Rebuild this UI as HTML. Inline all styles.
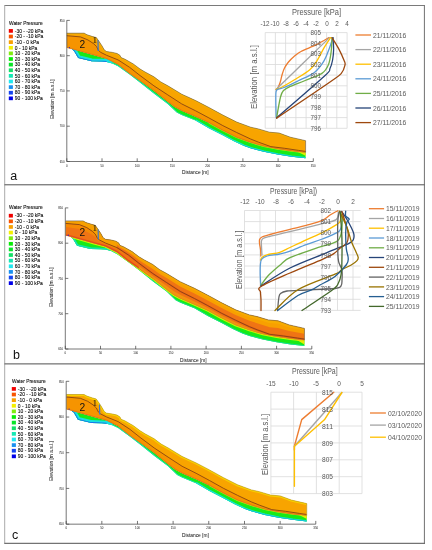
<!DOCTYPE html><html><head><meta charset="utf-8"><style>html,body{margin:0;padding:0;background:#fff;}#w{position:relative;width:432px;height:550px;overflow:hidden}svg{position:absolute;left:0;top:0;display:block}.t{position:absolute;width:0;height:0;transform-origin:0 0;}.t span{position:absolute;line-height:0;white-space:nowrap;}</style></head><body><div id="w"><svg width="432" height="550" viewBox="0 0 432 550"><rect width="432" height="550" fill="#fff"/>
<g><clipPath id="coa"><polygon points="66.8,33.2 84.2,33.2 87.0,34.8 92.6,36.6 96.3,37.6 98.6,40.8 102.0,45.9 104.3,50.0 106.6,51.6 112.4,52.4 117.0,53.5 119.9,55.3 121.0,57.6 125.1,59.3 133.2,63.9 140.0,69.0 145.0,72.0 153.9,76.8 160.8,82.0 167.8,85.8 181.7,94.2 195.6,100.6 208.9,107.5 222.8,115.1 236.7,122.1 250.6,127.2 258.3,128.9 269.4,132.2 279.2,133.1 290.3,137.2 305.6,140.7 305.6,152.5 291.7,151.1 277.8,149.0 263.9,146.3 250.6,142.4 236.7,137.4 222.8,130.4 208.9,122.8 195.6,116.7 181.7,110.8 174.7,107.0 167.8,101.8 153.9,90.7 140.0,80.8 129.7,73.7 118.1,64.5 106.6,58.7 95.0,55.6 72.2,49.1 66.8,47.8"/></clipPath>
<clipPath id="cga"><polygon points="72.2,49.1 95.0,55.6 106.6,58.7 118.1,64.5 129.7,73.7 140.0,80.8 153.9,90.7 167.8,101.8 174.7,107.0 181.7,110.8 195.6,116.7 208.9,122.8 222.8,130.4 236.7,137.4 250.6,142.4 263.9,146.3 277.8,149.0 291.7,151.1 305.6,152.5 305.6,158.3 305.6,158.3 291.7,156.7 277.8,154.6 263.9,151.8 250.6,148.3 243.6,145.7 234.0,141.3 222.8,135.3 208.9,128.3 195.6,120.6 181.7,115.0 176.8,112.6 167.8,103.9 153.9,93.5 140.0,82.4 129.7,74.6 118.1,66.3 112.4,63.4 106.6,61.9 102.0,61.6 91.6,61.2 78.2,58.0 74.0,51.0 72.2,49.6"/></clipPath>
<polygon points="72.2,49.1 95.0,55.6 106.6,58.7 118.1,64.5 129.7,73.7 140.0,80.8 153.9,90.7 167.8,101.8 174.7,107.0 181.7,110.8 195.6,116.7 208.9,122.8 222.8,130.4 236.7,137.4 250.6,142.4 263.9,146.3 277.8,149.0 291.7,151.1 305.6,152.5 305.6,158.3 305.6,158.3 291.7,156.7 277.8,154.6 263.9,151.8 250.6,148.3 243.6,145.7 234.0,141.3 222.8,135.3 208.9,128.3 195.6,120.6 181.7,115.0 176.8,112.6 167.8,103.9 153.9,93.5 140.0,82.4 129.7,74.6 118.1,66.3 112.4,63.4 106.6,61.9 102.0,61.6 91.6,61.2 78.2,58.0 74.0,51.0 72.2,49.6" fill="#18ea18"/>
<g clip-path="url(#cga)">
<path d="M72.2,49.6 L74.0,51.0 L78.2,58.0 L91.6,61.2 L102.0,61.6 L106.6,61.9 L112.4,63.4 L118.1,66.3 L129.7,74.6 L140.0,82.4 L153.9,93.5 L167.8,103.9 L176.8,112.6 L181.7,115.0 L195.6,120.6 L208.9,128.3 L222.8,135.3 L234.0,141.3 L243.6,145.7 L250.6,148.3 L263.9,151.8 L277.8,154.6 L291.7,156.7 L305.6,158.3" fill="none" stroke="#18e0c8" stroke-width="1.6"/>
<path d="M195.6,120.6 L208.9,128.3 L222.8,135.3 L234.0,141.3 L243.6,145.7 L250.6,148.3 L263.9,151.8 L277.8,154.6 L291.7,156.7 L305.6,158.3" fill="none" stroke="#18e0d0" stroke-width="2.6"/>
<path d="M72.2,49.6 L74.0,51.0 L78.2,58.0 L91.6,61.2 L102.0,61.6 L106.6,61.9 L112.4,63.4" fill="none" stroke="#18e0e0" stroke-width="5.6"/>
<path d="M72.2,49.6 L74.0,51.0 L78.2,58.0 L91.6,61.2 L102.0,61.6 L106.6,61.9" fill="none" stroke="#1a70e8" stroke-width="1.6"/>
<path d="M243.6,145.7 L250.6,148.3 L263.9,151.8 L277.8,154.6 L291.7,156.7 L305.6,158.3" fill="none" stroke="#10a8e0" stroke-width="0.9"/>
<path d="M208.9,122.8 L222.8,130.4 L236.7,137.4 L250.6,142.4 L263.9,146.3 L277.8,149.0 L291.7,151.1 L305.6,152.5" fill="none" stroke="#d8e800" stroke-width="1.4"/>
<polygon points="298,152 306,152.5 306,156" fill="#e8e800"/>
</g>
<polygon points="66.8,33.2 84.2,33.2 87.0,34.8 92.6,36.6 96.3,37.6 98.6,40.8 102.0,45.9 104.3,50.0 106.6,51.6 112.4,52.4 117.0,53.5 119.9,55.3 121.0,57.6 125.1,59.3 133.2,63.9 140.0,69.0 145.0,72.0 153.9,76.8 160.8,82.0 167.8,85.8 181.7,94.2 195.6,100.6 208.9,107.5 222.8,115.1 236.7,122.1 250.6,127.2 258.3,128.9 269.4,132.2 279.2,133.1 290.3,137.2 305.6,140.7 305.6,152.5 291.7,151.1 277.8,149.0 263.9,146.3 250.6,142.4 236.7,137.4 222.8,130.4 208.9,122.8 195.6,116.7 181.7,110.8 174.7,107.0 167.8,101.8 153.9,90.7 140.0,80.8 129.7,73.7 118.1,64.5 106.6,58.7 95.0,55.6 72.2,49.1 66.8,47.8" fill="#f8a400"/>
<g clip-path="url(#coa)">
<path d="M66.8,33.2 L84.2,33.2 L87.0,34.8 L92.6,36.6 L96.3,37.6 L98.6,40.8 L102.0,45.9 L104.3,50.0 L106.6,51.6 L112.4,52.4 L117.0,53.5 L119.9,55.3 L121.0,57.6 L125.1,59.3 L133.2,63.9 L140.0,69.0 L145.0,72.0 L153.9,76.8 L160.8,82.0 L167.8,85.8 L181.7,94.2 L195.6,100.6 L208.9,107.5 L222.8,115.1 L236.7,122.1 L250.6,127.2 L258.3,128.9 L269.4,132.2 L279.2,133.1 L290.3,137.2 L305.6,140.7" fill="none" stroke="#f9b600" stroke-width="2.2"/>
<polygon points="66.8,35.7 80.5,36.9 87.9,39.9 93.5,43.6 96.5,46.5 98.5,50.5 100.8,52.4 106.6,55.3 118.1,59.9 129.7,67.4 140.0,75.5 153.9,85.8 167.8,94.9 181.7,103.9 195.6,110.8 208.9,117.9 222.8,125.6 236.7,132.5 250.6,139.0 258.3,142.1 270.8,146.6 284.7,148.3 298.6,150.4 305.6,151.4 305.6,152.5 291.7,151.1 277.8,149.0 263.9,146.3 250.6,142.4 236.7,137.4 222.8,130.4 208.9,122.8 195.6,116.7 181.7,110.8 174.7,107.0 167.8,101.8 153.9,90.7 140.0,80.8 129.7,73.7 118.1,64.5 106.6,58.7 95.0,55.6 72.2,49.1 66.8,47.8" fill="#f69400"/>
<path d="M66.8,47.8 L72.2,49.1 L95.0,55.6 L106.6,58.7 L118.1,64.5 L129.7,73.7 L140.0,80.8 L153.9,90.7 L167.8,101.8 L174.7,107.0 L181.7,110.8 L195.6,116.7 L208.9,122.8 L222.8,130.4 L236.7,137.4 L250.6,142.4 L263.9,146.3 L277.8,149.0 L291.7,151.1 L305.6,152.5" fill="none" stroke="#f07c10" stroke-width="1.6"/>
</g>
<path d="M66.8,35.7 L80.5,36.9 L87.9,39.9 L93.5,43.6 L96.5,46.5 L98.5,50.5 L100.8,52.4 L106.6,55.3 L118.1,59.9 L129.7,67.4 L140.0,75.5 L153.9,85.8 L167.8,94.9 L181.7,103.9 L195.6,110.8 L208.9,117.9 L222.8,125.6 L236.7,132.5 L250.6,139.0 L258.3,142.1 L270.8,146.6 L284.7,148.3 L298.6,150.4 L305.6,151.4" fill="none" stroke="#7a3a14" stroke-width="0.8"/>
<path d="M66.8,33.2 L84.2,33.2 L87.0,34.8 L92.6,36.6 L96.3,37.6 L98.6,40.8 L102.0,45.9 L104.3,50.0 L106.6,51.6 L112.4,52.4 L117.0,53.5 L119.9,55.3 L121.0,57.6 L125.1,59.3 L133.2,63.9 L140.0,69.0 L145.0,72.0 L153.9,76.8 L160.8,82.0 L167.8,85.8 L181.7,94.2 L195.6,100.6 L208.9,107.5 L222.8,115.1 L236.7,122.1 L250.6,127.2 L258.3,128.9 L269.4,132.2 L279.2,133.1 L290.3,137.2 L305.6,140.7 L305.6,152.5" fill="none" stroke="#6a5a4a" stroke-width="0.6"/>
<path d="M66.8,47.8 L72.2,49.1 L95.0,55.6 L106.6,58.7 L118.1,64.5 L129.7,73.7 L140.0,80.8 L153.9,90.7 L167.8,101.8 L174.7,107.0 L181.7,110.8 L195.6,116.7 L208.9,122.8 L222.8,130.4 L236.7,137.4 L250.6,142.4 L263.9,146.3 L277.8,149.0 L291.7,151.1 L305.6,152.5" fill="none" stroke="#8a6040" stroke-width="0.4" opacity="0.5"/>
<circle cx="69.4" cy="47.6" r="0.7" fill="#3030c0"/>
<line x1="98.0" y1="39.9" x2="98.2" y2="51" stroke="#3c78d0" stroke-width="1.2"/><g stroke="#4a4a4a" stroke-width="0.75" fill="none">
<path d="M66.8,20.3 V161.5 H313.3"/>
<path d="M66.8,20.4 h3"/>
<path d="M66.8,55.7 h3"/>
<path d="M66.8,90.9 h3"/>
<path d="M66.8,126.2 h3"/>
<path d="M66.8,161.5 h3"/>
<path d="M66.8,161.5 v-3.2"/>
<path d="M102.0,161.5 v-3.2"/>
<path d="M137.2,161.5 v-3.2"/>
<path d="M172.4,161.5 v-3.2"/>
<path d="M207.6,161.5 v-3.2"/>
<path d="M242.9,161.5 v-3.2"/>
<path d="M278.1,161.5 v-3.2"/>
<path d="M313.3,161.5 v-3.2"/>
</g></g>
<g transform="translate(-1.15,187.7)"><clipPath id="cob"><polygon points="66.8,33.2 84.2,33.2 87.0,34.8 92.6,36.6 96.3,37.6 98.6,40.8 102.0,45.9 104.3,50.0 106.6,51.6 112.4,52.4 117.0,53.5 119.9,55.3 121.0,57.6 125.1,59.3 133.2,63.9 140.0,69.0 145.0,72.0 153.9,76.8 160.8,82.0 167.8,85.8 181.7,94.2 195.6,100.6 208.9,107.5 222.8,115.1 236.7,122.1 250.6,127.2 258.3,128.9 269.4,132.2 279.2,133.1 290.3,137.2 305.6,140.7 305.6,152.5 291.7,151.1 277.8,149.0 263.9,146.3 250.6,142.4 236.7,137.4 222.8,130.4 208.9,122.8 195.6,116.7 181.7,110.8 174.7,107.0 167.8,101.8 153.9,90.7 140.0,80.8 129.7,73.7 118.1,64.5 106.6,58.7 95.0,55.6 72.2,49.1 66.8,47.8"/></clipPath>
<clipPath id="cgb"><polygon points="72.2,49.1 95.0,55.6 106.6,58.7 118.1,64.5 129.7,73.7 140.0,80.8 153.9,90.7 167.8,101.8 174.7,107.0 181.7,110.8 195.6,116.7 208.9,122.8 222.8,130.4 236.7,137.4 250.6,142.4 263.9,146.3 277.8,149.0 291.7,151.1 305.6,152.5 305.6,158.3 305.6,158.3 291.7,156.7 277.8,154.6 263.9,151.8 250.6,148.3 243.6,145.7 234.0,141.3 222.8,135.3 208.9,128.3 195.6,120.6 181.7,115.0 176.8,112.6 167.8,103.9 153.9,93.5 140.0,82.4 129.7,74.6 118.1,66.3 112.4,63.4 106.6,61.9 102.0,61.6 91.6,61.2 78.2,58.0 74.0,51.0 72.2,49.6"/></clipPath>
<polygon points="72.2,49.1 95.0,55.6 106.6,58.7 118.1,64.5 129.7,73.7 140.0,80.8 153.9,90.7 167.8,101.8 174.7,107.0 181.7,110.8 195.6,116.7 208.9,122.8 222.8,130.4 236.7,137.4 250.6,142.4 263.9,146.3 277.8,149.0 291.7,151.1 305.6,152.5 305.6,158.3 305.6,158.3 291.7,156.7 277.8,154.6 263.9,151.8 250.6,148.3 243.6,145.7 234.0,141.3 222.8,135.3 208.9,128.3 195.6,120.6 181.7,115.0 176.8,112.6 167.8,103.9 153.9,93.5 140.0,82.4 129.7,74.6 118.1,66.3 112.4,63.4 106.6,61.9 102.0,61.6 91.6,61.2 78.2,58.0 74.0,51.0 72.2,49.6" fill="#18ea18"/>
<g clip-path="url(#cgb)">
<path d="M72.2,49.6 L74.0,51.0 L78.2,58.0 L91.6,61.2 L102.0,61.6 L106.6,61.9 L112.4,63.4 L118.1,66.3 L129.7,74.6 L140.0,82.4 L153.9,93.5 L167.8,103.9 L176.8,112.6 L181.7,115.0 L195.6,120.6 L208.9,128.3 L222.8,135.3 L234.0,141.3 L243.6,145.7 L250.6,148.3 L263.9,151.8 L277.8,154.6 L291.7,156.7 L305.6,158.3" fill="none" stroke="#14e0a0" stroke-width="1.6"/>
<path d="M72.2,49.6 L74.0,51.0 L78.2,58.0 L91.6,61.2 L102.0,61.6 L106.6,61.9 L112.4,63.4 L118.1,66.3" fill="none" stroke="#14e0b0" stroke-width="3.2"/>
<path d="M66.8,47.8 L72.2,49.1 L95.0,55.6 L106.6,58.7 L118.1,64.5 L129.7,73.7 L140.0,80.8 L153.9,90.7 L167.8,101.8 L174.7,107.0 L181.7,110.8 L195.6,116.7 L208.9,122.8 L222.8,130.4 L236.7,137.4 L250.6,142.4 L263.9,146.3 L277.8,149.0 L291.7,151.1 L305.6,152.5" fill="none" stroke="#d8f000" stroke-width="2.4"/>
<polygon points="296,151 306,152.5 306,157" fill="#e8e800"/>
</g>
<polygon points="66.8,33.2 84.2,33.2 87.0,34.8 92.6,36.6 96.3,37.6 98.6,40.8 102.0,45.9 104.3,50.0 106.6,51.6 112.4,52.4 117.0,53.5 119.9,55.3 121.0,57.6 125.1,59.3 133.2,63.9 140.0,69.0 145.0,72.0 153.9,76.8 160.8,82.0 167.8,85.8 181.7,94.2 195.6,100.6 208.9,107.5 222.8,115.1 236.7,122.1 250.6,127.2 258.3,128.9 269.4,132.2 279.2,133.1 290.3,137.2 305.6,140.7 305.6,152.5 291.7,151.1 277.8,149.0 263.9,146.3 250.6,142.4 236.7,137.4 222.8,130.4 208.9,122.8 195.6,116.7 181.7,110.8 174.7,107.0 167.8,101.8 153.9,90.7 140.0,80.8 129.7,73.7 118.1,64.5 106.6,58.7 95.0,55.6 72.2,49.1 66.8,47.8" fill="#f8a400"/>
<g clip-path="url(#cob)">
<polygon points="66.8,33.2 84.2,33.2 87.0,34.8 92.6,36.6 96.3,37.6 98.6,40.8 102.0,45.9 104.3,50.0 106.6,51.6 112.4,52.4 117.0,53.5 119.9,55.3 121.0,57.6 125.1,59.3 133.2,63.9 140.0,69.0 145.0,72.0 153.9,76.8 160.8,82.0 167.8,85.8 181.7,94.2 195.6,100.6 208.9,107.5 222.8,115.1 236.7,122.1 250.6,127.2 258.3,128.9 269.4,132.2 279.2,133.1 290.3,137.2 305.6,140.7 305.6,152.5 291.7,151.1 277.8,149.0 263.9,146.3 250.6,142.4 236.7,137.4 222.8,130.4 208.9,122.8 195.6,116.7 181.7,110.8 174.7,107.0 167.8,101.8 153.9,90.7 140.0,80.8 129.7,73.7 118.1,64.5 106.6,58.7 95.0,55.6 72.2,49.1 66.8,47.8" fill="#f07414"/>
<polygon points="66.8,32.7 80.5,32.5 84.2,32.2 87.0,33.9 87.9,34.1 92.6,35.3 93.5,35.5 96.3,35.9 96.5,36.2 98.5,38.7 98.6,38.8 100.8,42.4 102.0,44.5 104.3,49.2 106.6,50.9 112.4,51.4 117.0,52.3 118.0,53.0 118.0,59.9 117.0,59.5 112.4,57.6 106.6,55.3 104.3,54.1 102.0,53.0 100.8,52.4 98.6,50.6 98.5,50.5 96.5,46.5 96.3,46.3 93.5,43.6 92.6,43.0 87.9,39.9 87.0,39.5 84.2,38.4 80.5,36.9 66.8,35.7" fill="#f8a000"/>
<polygon points="118.0,53.0 118.1,53.0 119.9,54.1 121.0,56.8 125.1,58.3 129.7,60.8 133.2,62.6 140.0,67.7 145.0,70.6 153.9,75.0 160.8,80.3 167.8,84.0 181.7,92.3 195.6,98.6 208.9,105.4 222.8,113.0 236.7,120.0 250.6,124.8 258.3,126.3 269.4,129.4 270.8,129.5 279.2,130.2 284.7,132.5 290.3,134.8 298.6,136.8 305.6,138.6 305.6,146.1 298.6,144.7 290.3,143.2 284.7,141.7 279.2,140.4 270.8,139.5 269.4,139.1 258.3,135.5 250.6,133.1 236.7,127.3 222.8,120.3 208.9,112.7 195.6,105.7 181.7,99.1 167.8,90.3 160.8,86.2 153.9,81.3 145.0,75.6 140.0,72.2 133.2,67.0 129.7,64.7 125.1,61.9 121.0,59.7 119.9,58.2 118.1,57.0 118.0,57.0" fill="#f8a000"/>
<polygon points="66.8,32.7 80.5,32.5 84.2,32.2 87.0,33.9 87.9,34.1 92.6,35.3 93.5,35.5 96.3,35.9 96.5,36.2 98.5,38.7 98.6,38.8 100.8,42.4 102.0,44.5 104.3,49.2 106.6,50.9 112.4,51.4 117.0,52.3 118.1,53.0 119.9,54.1 121.0,56.8 125.1,58.3 129.7,60.8 133.2,62.6 140.0,67.7 145.0,70.6 153.9,75.0 160.8,80.3 167.8,84.0 181.7,92.3 195.6,98.6 208.9,105.4 222.8,113.0 236.7,120.0 250.6,124.8 258.3,126.3 269.4,129.4 270.8,129.5 279.2,130.2 284.7,132.5 290.3,134.8 298.6,136.8 305.6,138.6 305.6,142.8 298.6,141.4 290.3,139.6 284.7,137.8 279.2,136.0 270.8,135.2 269.4,135.0 258.3,131.5 250.6,129.6 236.7,124.2 222.8,117.2 208.9,109.6 195.6,102.6 181.7,96.1 167.8,87.6 160.8,83.7 153.9,78.6 145.0,73.4 140.0,70.3 133.2,65.2 129.7,63.0 125.1,60.3 121.0,58.4 119.9,56.5 118.1,55.3 117.0,54.7 112.4,53.4 106.6,52.3 104.3,50.8 102.0,47.3 100.8,45.8 98.6,42.8 98.5,42.6 96.5,39.6 96.3,39.3 93.5,38.2 92.6,37.9 87.9,36.1 87.0,35.7 84.2,34.2 80.5,33.9 66.8,33.7" fill="#f8ac00"/>
<polygon points="66.8,35.7 72.2,36.2 80.5,36.9 87.9,39.9 93.5,43.6 95.0,45.0 96.5,46.5 98.5,50.5 100.8,52.4 106.6,55.3 118.1,59.9 125.0,64.4 125.0,66.0 118.1,61.3 106.6,56.3 100.8,53.8 98.5,52.3 96.5,49.4 95.0,48.2 93.5,47.1 87.9,44.0 80.5,41.3 72.2,40.1 66.8,39.3" fill="#f58a04"/>
<path d="M66.8,47.8 L72.2,49.1 L95.0,55.6 L106.6,58.7 L118.1,64.5 L129.7,73.7 L140.0,80.8 L153.9,90.7" fill="none" stroke="#ea4a1c" stroke-width="2.6"/>
<polygon points="140.0,78.2 153.9,88.2 167.8,98.3 174.7,103.2 181.7,107.3 195.6,113.8 208.9,120.3 222.8,128.0 236.7,134.9 250.6,140.7 258.3,143.4 263.9,145.2 270.8,147.1 277.8,148.2 284.7,149.2 291.7,150.2 298.6,151.1 305.6,151.9 305.6,152.7 298.6,152.1 291.7,151.4 284.7,150.4 277.8,149.3 270.8,147.8 263.9,146.7 258.3,145.2 250.6,143.1 236.7,138.4 222.8,131.4 208.9,123.8 195.6,117.9 181.7,112.2 174.7,108.5 167.8,103.2 153.9,91.7 140.0,81.9" fill="#f49210"/>
<path d="M118.1,59.9 L129.7,67.4 L140.0,75.5 L153.9,85.8 L167.8,94.9 L181.7,103.9 L195.6,110.8 L208.9,117.9 L222.8,125.6 L236.7,132.5 L250.6,139.0 L258.3,142.1 L270.8,146.6 L284.7,148.3 L298.6,150.4 L305.6,151.4" fill="none" stroke="#e86418" stroke-width="1.8"/>
</g>
<path d="M66.8,35.7 L80.5,36.9 L87.9,39.9 L93.5,43.6 L96.5,46.5 L98.5,50.5 L100.8,52.4 L106.6,55.3 L118.1,59.9 L129.7,67.4 L140.0,75.5 L153.9,85.8 L167.8,94.9 L181.7,103.9 L195.6,110.8 L208.9,117.9 L222.8,125.6 L236.7,132.5 L250.6,139.0 L258.3,142.1 L270.8,146.6 L284.7,148.3 L298.6,150.4 L305.6,151.4" fill="none" stroke="#7a3a14" stroke-width="0.8"/>
<path d="M66.8,33.2 L84.2,33.2 L87.0,34.8 L92.6,36.6 L96.3,37.6 L98.6,40.8 L102.0,45.9 L104.3,50.0 L106.6,51.6 L112.4,52.4 L117.0,53.5 L119.9,55.3 L121.0,57.6 L125.1,59.3 L133.2,63.9 L140.0,69.0 L145.0,72.0 L153.9,76.8 L160.8,82.0 L167.8,85.8 L181.7,94.2 L195.6,100.6 L208.9,107.5 L222.8,115.1 L236.7,122.1 L250.6,127.2 L258.3,128.9 L269.4,132.2 L279.2,133.1 L290.3,137.2 L305.6,140.7 L305.6,152.5" fill="none" stroke="#6a5a4a" stroke-width="0.6"/>
<path d="M66.8,47.8 L72.2,49.1 L95.0,55.6 L106.6,58.7 L118.1,64.5 L129.7,73.7 L140.0,80.8 L153.9,90.7 L167.8,101.8 L174.7,107.0 L181.7,110.8 L195.6,116.7 L208.9,122.8 L222.8,130.4 L236.7,137.4 L250.6,142.4 L263.9,146.3 L277.8,149.0 L291.7,151.1 L305.6,152.5" fill="none" stroke="#8a6040" stroke-width="0.4" opacity="0.5"/>
<circle cx="69.4" cy="47.6" r="0.7" fill="#3030c0"/>
<line x1="99.3" y1="41.9" x2="99.5" y2="51.9" stroke="#3c78d0" stroke-width="1.2"/></g>
<g transform="translate(-1.5,187.5)"><g stroke="#4a4a4a" stroke-width="0.75" fill="none">
<path d="M66.8,20.3 V161.5 H313.3"/>
<path d="M66.8,20.4 h3"/>
<path d="M66.8,55.7 h3"/>
<path d="M66.8,90.9 h3"/>
<path d="M66.8,126.2 h3"/>
<path d="M66.8,161.5 h3"/>
<path d="M66.8,161.5 v-3.2"/>
<path d="M102.0,161.5 v-3.2"/>
<path d="M137.2,161.5 v-3.2"/>
<path d="M172.4,161.5 v-3.2"/>
<path d="M207.6,161.5 v-3.2"/>
<path d="M242.9,161.5 v-3.2"/>
<path d="M278.1,161.5 v-3.2"/>
<path d="M313.3,161.5 v-3.2"/>
</g></g>
<g transform="translate(66.3,394.5) scale(1.006,1.015) translate(-66.6,-33.2)"><clipPath id="coc"><polygon points="66.8,33.2 84.2,33.2 87.0,34.8 92.6,36.6 96.3,37.6 98.6,40.8 102.0,45.9 104.3,50.0 106.6,51.6 112.4,52.4 117.0,53.5 119.9,55.3 121.0,57.6 125.1,59.3 133.2,63.9 140.0,69.0 145.0,72.0 153.9,76.8 160.8,82.0 167.8,85.8 181.7,94.2 195.6,100.6 208.9,107.5 222.8,115.1 236.7,122.1 250.6,127.2 258.3,128.9 269.4,132.2 279.2,133.1 290.3,137.2 305.6,140.7 305.6,152.5 291.7,151.1 277.8,149.0 263.9,146.3 250.6,142.4 236.7,137.4 222.8,130.4 208.9,122.8 195.6,116.7 181.7,110.8 174.7,107.0 167.8,101.8 153.9,90.7 140.0,80.8 129.7,73.7 118.1,64.5 106.6,58.7 95.0,55.6 72.2,49.1 66.8,47.8"/></clipPath>
<clipPath id="cgc"><polygon points="72.2,49.1 95.0,55.6 106.6,58.7 118.1,64.5 129.7,73.7 140.0,80.8 153.9,90.7 167.8,101.8 174.7,107.0 181.7,110.8 195.6,116.7 208.9,122.8 222.8,130.4 236.7,137.4 250.6,142.4 263.9,146.3 277.8,149.0 291.7,151.1 305.6,152.5 305.6,158.3 305.6,158.3 291.7,156.7 277.8,154.6 263.9,151.8 250.6,148.3 243.6,145.7 234.0,141.3 222.8,135.3 208.9,128.3 195.6,120.6 181.7,115.0 176.8,112.6 167.8,103.9 153.9,93.5 140.0,82.4 129.7,74.6 118.1,66.3 112.4,63.4 106.6,61.9 102.0,61.6 91.6,61.2 78.2,58.0 74.0,51.0 72.2,49.6"/></clipPath>
<polygon points="72.2,49.1 95.0,55.6 106.6,58.7 118.1,64.5 129.7,73.7 140.0,80.8 153.9,90.7 167.8,101.8 174.7,107.0 181.7,110.8 195.6,116.7 208.9,122.8 222.8,130.4 236.7,137.4 250.6,142.4 263.9,146.3 277.8,149.0 291.7,151.1 305.6,152.5 305.6,158.3 305.6,158.3 291.7,156.7 277.8,154.6 263.9,151.8 250.6,148.3 243.6,145.7 234.0,141.3 222.8,135.3 208.9,128.3 195.6,120.6 181.7,115.0 176.8,112.6 167.8,103.9 153.9,93.5 140.0,82.4 129.7,74.6 118.1,66.3 112.4,63.4 106.6,61.9 102.0,61.6 91.6,61.2 78.2,58.0 74.0,51.0 72.2,49.6" fill="#18ea18"/>
<g clip-path="url(#cgc)">
<path d="M72.2,49.6 L74.0,51.0 L78.2,58.0 L91.6,61.2 L102.0,61.6 L106.6,61.9 L112.4,63.4 L118.1,66.3 L129.7,74.6 L140.0,82.4 L153.9,93.5 L167.8,103.9 L176.8,112.6 L181.7,115.0 L195.6,120.6 L208.9,128.3 L222.8,135.3 L234.0,141.3 L243.6,145.7 L250.6,148.3 L263.9,151.8 L277.8,154.6 L291.7,156.7 L305.6,158.3" fill="none" stroke="#18e0c8" stroke-width="1.6"/>
<path d="M195.6,120.6 L208.9,128.3 L222.8,135.3 L234.0,141.3 L243.6,145.7 L250.6,148.3 L263.9,151.8 L277.8,154.6 L291.7,156.7 L305.6,158.3" fill="none" stroke="#18e0d0" stroke-width="2.6"/>
<path d="M72.2,49.6 L74.0,51.0 L78.2,58.0 L91.6,61.2 L102.0,61.6 L106.6,61.9 L112.4,63.4" fill="none" stroke="#18e0e0" stroke-width="5.6"/>
<path d="M72.2,49.6 L74.0,51.0 L78.2,58.0 L91.6,61.2 L102.0,61.6 L106.6,61.9" fill="none" stroke="#1a70e8" stroke-width="1.6"/>
<path d="M243.6,145.7 L250.6,148.3 L263.9,151.8 L277.8,154.6 L291.7,156.7 L305.6,158.3" fill="none" stroke="#10a8e0" stroke-width="0.9"/>
<path d="M208.9,122.8 L222.8,130.4 L236.7,137.4 L250.6,142.4 L263.9,146.3 L277.8,149.0 L291.7,151.1 L305.6,152.5" fill="none" stroke="#d8e800" stroke-width="1.4"/>
<polygon points="298,152 306,152.5 306,156" fill="#e8e800"/>
</g>
<polygon points="66.8,33.2 84.2,33.2 87.0,34.8 92.6,36.6 96.3,37.6 98.6,40.8 102.0,45.9 104.3,50.0 106.6,51.6 112.4,52.4 117.0,53.5 119.9,55.3 121.0,57.6 125.1,59.3 133.2,63.9 140.0,69.0 145.0,72.0 153.9,76.8 160.8,82.0 167.8,85.8 181.7,94.2 195.6,100.6 208.9,107.5 222.8,115.1 236.7,122.1 250.6,127.2 258.3,128.9 269.4,132.2 279.2,133.1 290.3,137.2 305.6,140.7 305.6,152.5 291.7,151.1 277.8,149.0 263.9,146.3 250.6,142.4 236.7,137.4 222.8,130.4 208.9,122.8 195.6,116.7 181.7,110.8 174.7,107.0 167.8,101.8 153.9,90.7 140.0,80.8 129.7,73.7 118.1,64.5 106.6,58.7 95.0,55.6 72.2,49.1 66.8,47.8" fill="#f8a400"/>
<g clip-path="url(#coc)">
<polygon points="66.8,35.7 80.5,36.9 87.9,39.9 93.5,43.6 96.5,46.5 98.5,50.5 100.8,52.4 106.6,55.3 118.1,59.9 129.7,67.4 140.0,75.5 153.9,85.8 167.8,94.9 181.7,103.9 195.6,110.8 208.9,117.9 222.8,125.6 236.7,132.5 250.6,139.0 258.3,142.1 270.8,146.6 284.7,148.3 298.6,150.4 305.6,151.4 305.6,152.5 291.7,151.1 277.8,149.0 263.9,146.3 250.6,142.4 236.7,137.4 222.8,130.4 208.9,122.8 195.6,116.7 181.7,110.8 174.7,107.0 167.8,101.8 153.9,90.7 140.0,80.8 129.7,73.7 118.1,64.5 106.6,58.7 95.0,55.6 72.2,49.1 66.8,47.8" fill="#f69400"/>
<path d="M66.8,33.2 L84.2,33.2 L87.0,34.8 L92.6,36.6 L96.3,37.6 L98.6,40.8 L102.0,45.9 L104.3,50.0 L106.6,51.6 L112.4,52.4 L117.0,53.5 L119.9,55.3 L121.0,57.6 L125.1,59.3 L133.2,63.9 L140.0,69.0 L145.0,72.0 L153.9,76.8 L160.8,82.0 L167.8,85.8 L181.7,94.2 L195.6,100.6 L208.9,107.5 L222.8,115.1 L236.7,122.1 L250.6,127.2 L258.3,128.9 L269.4,132.2 L279.2,133.1 L290.3,137.2 L305.6,140.7" fill="none" stroke="#f8d000" stroke-width="3"/>
<path d="M66.8,47.8 L72.2,49.1 L95.0,55.6 L106.6,58.7 L118.1,64.5 L129.7,73.7 L140.0,80.8 L153.9,90.7 L167.8,101.8 L174.7,107.0 L181.7,110.8 L195.6,116.7 L208.9,122.8 L222.8,130.4 L236.7,137.4 L250.6,142.4 L263.9,146.3 L277.8,149.0 L291.7,151.1 L305.6,152.5" fill="none" stroke="#f07c10" stroke-width="1.6"/>
</g>
<path d="M66.8,35.7 L80.5,36.9 L87.9,39.9 L93.5,43.6 L96.5,46.5 L98.5,50.5 L100.8,52.4 L106.6,55.3 L118.1,59.9 L129.7,67.4 L140.0,75.5 L153.9,85.8 L167.8,94.9 L181.7,103.9 L195.6,110.8 L208.9,117.9 L222.8,125.6 L236.7,132.5 L250.6,139.0 L258.3,142.1 L270.8,146.6 L284.7,148.3 L298.6,150.4 L305.6,151.4" fill="none" stroke="#7a3a14" stroke-width="0.8"/>
<path d="M66.8,33.2 L84.2,33.2 L87.0,34.8 L92.6,36.6 L96.3,37.6 L98.6,40.8 L102.0,45.9 L104.3,50.0 L106.6,51.6 L112.4,52.4 L117.0,53.5 L119.9,55.3 L121.0,57.6 L125.1,59.3 L133.2,63.9 L140.0,69.0 L145.0,72.0 L153.9,76.8 L160.8,82.0 L167.8,85.8 L181.7,94.2 L195.6,100.6 L208.9,107.5 L222.8,115.1 L236.7,122.1 L250.6,127.2 L258.3,128.9 L269.4,132.2 L279.2,133.1 L290.3,137.2 L305.6,140.7 L305.6,152.5" fill="none" stroke="#b89a20" stroke-width="0.6"/>
<path d="M66.8,47.8 L72.2,49.1 L95.0,55.6 L106.6,58.7 L118.1,64.5 L129.7,73.7 L140.0,80.8 L153.9,90.7 L167.8,101.8 L174.7,107.0 L181.7,110.8 L195.6,116.7 L208.9,122.8 L222.8,130.4 L236.7,137.4 L250.6,142.4 L263.9,146.3 L277.8,149.0 L291.7,151.1 L305.6,152.5" fill="none" stroke="#8a6040" stroke-width="0.4" opacity="0.5"/>
<circle cx="69.4" cy="47.6" r="0.7" fill="#3030c0"/>
<line x1="99.6" y1="43.0" x2="99.8" y2="53.0" stroke="#3c78d0" stroke-width="1.2"/></g>
<g transform="translate(66.2,381.5) scale(1.0125) translate(-66.8,-20.6)"><g stroke="#4a4a4a" stroke-width="0.75" fill="none">
<path d="M66.8,20.3 V161.5 H313.3"/>
<path d="M66.8,20.4 h3"/>
<path d="M66.8,55.7 h3"/>
<path d="M66.8,90.9 h3"/>
<path d="M66.8,126.2 h3"/>
<path d="M66.8,161.5 h3"/>
<path d="M66.8,161.5 v-3.2"/>
<path d="M102.0,161.5 v-3.2"/>
<path d="M137.2,161.5 v-3.2"/>
<path d="M172.4,161.5 v-3.2"/>
<path d="M207.6,161.5 v-3.2"/>
<path d="M242.9,161.5 v-3.2"/>
<path d="M278.1,161.5 v-3.2"/>
<path d="M313.3,161.5 v-3.2"/>
</g></g>
<rect x="8.8" y="29.05" width="4.1" height="3.7" fill="#f00000"/>
<rect x="8.8" y="34.67" width="4.1" height="3.7" fill="#f85400"/>
<rect x="8.8" y="40.29" width="4.1" height="3.7" fill="#f8a000"/>
<rect x="8.8" y="45.91" width="4.1" height="3.7" fill="#f4f000"/>
<rect x="8.8" y="51.53" width="4.1" height="3.7" fill="#80ec10"/>
<rect x="8.8" y="57.15" width="4.1" height="3.7" fill="#08ec08"/>
<rect x="8.8" y="62.77" width="4.1" height="3.7" fill="#08e428"/>
<rect x="8.8" y="68.39" width="4.1" height="3.7" fill="#14e068"/>
<rect x="8.8" y="74.01" width="4.1" height="3.7" fill="#14e8b4"/>
<rect x="8.8" y="79.63" width="4.1" height="3.7" fill="#20e8f0"/>
<rect x="8.8" y="85.25" width="4.1" height="3.7" fill="#1890f0"/>
<rect x="8.8" y="90.87" width="4.1" height="3.7" fill="#1444f0"/>
<rect x="8.8" y="96.49" width="4.1" height="3.7" fill="#0000e8"/>
<rect x="8.8" y="213.85" width="4.1" height="3.7" fill="#f00000"/>
<rect x="8.8" y="219.47" width="4.1" height="3.7" fill="#f85400"/>
<rect x="8.8" y="225.09" width="4.1" height="3.7" fill="#f8a000"/>
<rect x="8.8" y="230.71" width="4.1" height="3.7" fill="#f4f000"/>
<rect x="8.8" y="236.33" width="4.1" height="3.7" fill="#80ec10"/>
<rect x="8.8" y="241.95" width="4.1" height="3.7" fill="#08ec08"/>
<rect x="8.8" y="247.57" width="4.1" height="3.7" fill="#08e428"/>
<rect x="8.8" y="253.19" width="4.1" height="3.7" fill="#14e068"/>
<rect x="8.8" y="258.81" width="4.1" height="3.7" fill="#14e8b4"/>
<rect x="8.8" y="264.43" width="4.1" height="3.7" fill="#20e8f0"/>
<rect x="8.8" y="270.05" width="4.1" height="3.7" fill="#1890f0"/>
<rect x="8.8" y="275.67" width="4.1" height="3.7" fill="#1444f0"/>
<rect x="8.8" y="281.29" width="4.1" height="3.7" fill="#0000e8"/>
<rect x="11.8" y="387.05" width="4.1" height="3.7" fill="#f00000"/>
<rect x="11.8" y="392.67" width="4.1" height="3.7" fill="#f85400"/>
<rect x="11.8" y="398.29" width="4.1" height="3.7" fill="#f8a000"/>
<rect x="11.8" y="403.91" width="4.1" height="3.7" fill="#f4f000"/>
<rect x="11.8" y="409.53" width="4.1" height="3.7" fill="#80ec10"/>
<rect x="11.8" y="415.15" width="4.1" height="3.7" fill="#08ec08"/>
<rect x="11.8" y="420.77" width="4.1" height="3.7" fill="#08e428"/>
<rect x="11.8" y="426.39" width="4.1" height="3.7" fill="#14e068"/>
<rect x="11.8" y="432.01" width="4.1" height="3.7" fill="#14e8b4"/>
<rect x="11.8" y="437.63" width="4.1" height="3.7" fill="#20e8f0"/>
<rect x="11.8" y="443.25" width="4.1" height="3.7" fill="#1890f0"/>
<rect x="11.8" y="448.87" width="4.1" height="3.7" fill="#1444f0"/>
<rect x="11.8" y="454.49" width="4.1" height="3.7" fill="#0000e8"/>
<g stroke="#d9d9d9" stroke-width="0.8">
<line x1="265.2" y1="32.6" x2="265.2" y2="128.3"/>
<line x1="275.4" y1="32.6" x2="275.4" y2="128.3"/>
<line x1="285.6" y1="32.6" x2="285.6" y2="128.3"/>
<line x1="295.9" y1="32.6" x2="295.9" y2="128.3"/>
<line x1="306.1" y1="32.6" x2="306.1" y2="128.3"/>
<line x1="316.4" y1="32.6" x2="316.4" y2="128.3"/>
<line x1="326.6" y1="32.6" x2="326.6" y2="128.3"/>
<line x1="336.8" y1="32.6" x2="336.8" y2="128.3"/>
<line x1="347.1" y1="32.6" x2="347.1" y2="128.3"/>
<line x1="265.2" y1="32.6" x2="347.1" y2="32.6"/>
<line x1="265.2" y1="43.2" x2="347.1" y2="43.2"/>
<line x1="265.2" y1="53.9" x2="347.1" y2="53.9"/>
<line x1="265.2" y1="64.5" x2="347.1" y2="64.5"/>
<line x1="265.2" y1="75.1" x2="347.1" y2="75.1"/>
<line x1="265.2" y1="85.8" x2="347.1" y2="85.8"/>
<line x1="265.2" y1="96.4" x2="347.1" y2="96.4"/>
<line x1="265.2" y1="107.0" x2="347.1" y2="107.0"/>
<line x1="265.2" y1="117.6" x2="347.1" y2="117.6"/>
<line x1="265.2" y1="128.3" x2="347.1" y2="128.3"/>
</g>
<path d="M328.9,37.6 C326.8,38.8 320.9,42.4 316.3,44.7 C311.7,47.0 304.7,49.5 301.0,51.5 C297.3,53.5 296.1,54.8 294.0,56.5 C291.9,58.2 290.1,60.1 288.5,62.0 C286.9,63.9 285.6,65.8 284.5,68.0 C283.4,70.2 282.7,72.7 282.0,75.0 C281.3,77.3 281.0,79.9 280.3,82.0 C279.6,84.1 278.7,86.2 278.0,87.5 C277.3,88.8 276.3,89.2 276.0,89.6" fill="none" stroke="#ED7D31" stroke-width="1.3" stroke-linejoin="round" stroke-linecap="round"/>
<path d="M329.5,37.6 C325.1,41.9 311.9,54.7 303.0,63.3 C294.1,71.9 280.7,84.9 276.2,89.2" fill="none" stroke="#A5A5A5" stroke-width="1.3" stroke-linejoin="round" stroke-linecap="round"/>
<path d="M330.5,37.6 C329.4,39.4 325.9,44.6 323.7,48.4 C321.5,52.2 319.5,56.8 317.2,60.4 C314.9,64.0 313.6,66.4 309.8,69.7 C306.0,73.0 298.6,77.2 294.1,80.0 C289.6,82.8 286.0,84.9 283.0,86.5 C280.0,88.1 277.3,88.9 276.2,89.4" fill="none" stroke="#FFC000" stroke-width="1.3" stroke-linejoin="round" stroke-linecap="round"/>
<path d="M333.0,37.6 C332.4,39.4 330.9,44.5 329.3,48.4 C327.8,52.3 326.2,57.3 323.7,61.3 C321.2,65.3 318.7,69.1 314.4,72.4 C310.1,75.7 302.9,78.5 297.8,81.0 C292.7,83.5 287.4,86.1 284.0,87.5 C280.6,88.9 278.8,88.7 277.5,89.4 C276.2,90.2 276.3,90.2 276.0,92.0 C275.7,93.8 275.8,95.8 275.8,100.0 C275.8,104.2 276.1,114.6 276.2,117.5" fill="none" stroke="#5B9BD5" stroke-width="1.3" stroke-linejoin="round" stroke-linecap="round"/>
<path d="M332.0,37.6 C331.9,40.0 331.7,47.5 331.1,52.1 C330.5,56.7 329.8,61.5 328.3,65.0 C326.8,68.5 325.8,70.8 321.9,73.4 C318.0,76.0 310.5,78.3 305.2,80.5 C299.9,82.7 293.6,84.8 290.0,86.5 C286.4,88.2 285.1,88.8 283.5,90.5 C281.9,92.2 281.6,92.5 280.5,97.0 C279.4,101.5 277.2,114.3 276.6,117.8" fill="none" stroke="#70AD47" stroke-width="1.3" stroke-linejoin="round" stroke-linecap="round"/>
<path d="M333.0,37.6 C333.1,39.7 333.7,46.3 333.6,50.0 C333.5,53.7 333.2,56.9 332.6,60.0 C332.0,63.1 331.4,65.8 330.0,68.5 C328.6,71.2 332.9,68.3 324.0,76.5 C315.1,84.7 284.5,111.0 276.6,117.9" fill="none" stroke="#264478" stroke-width="1.3" stroke-linejoin="round" stroke-linecap="round"/>
<path d="M332.0,37.6 C333.1,39.4 336.5,44.6 338.5,48.4 C340.5,52.2 343.0,57.6 344.1,60.4 C345.2,63.2 345.5,62.8 345.0,65.0 C344.5,67.2 343.9,70.5 341.3,73.4 C338.7,76.3 340.1,75.0 329.3,82.5 C318.5,90.0 285.4,112.2 276.6,118.1" fill="none" stroke="#9E480E" stroke-width="1.3" stroke-linejoin="round" stroke-linecap="round"/>
<line x1="355.4" y1="35.0" x2="371.0" y2="35.0" stroke="#ED7D31" stroke-width="1.3"/>
<line x1="355.4" y1="49.6" x2="371.0" y2="49.6" stroke="#A5A5A5" stroke-width="1.3"/>
<line x1="355.4" y1="64.2" x2="371.0" y2="64.2" stroke="#FFC000" stroke-width="1.3"/>
<line x1="355.4" y1="78.8" x2="371.0" y2="78.8" stroke="#5B9BD5" stroke-width="1.3"/>
<line x1="355.4" y1="93.4" x2="371.0" y2="93.4" stroke="#70AD47" stroke-width="1.3"/>
<line x1="355.4" y1="108.0" x2="371.0" y2="108.0" stroke="#264478" stroke-width="1.3"/>
<line x1="355.4" y1="122.6" x2="371.0" y2="122.6" stroke="#9E480E" stroke-width="1.3"/>
<g stroke="#d9d9d9" stroke-width="0.8">
<line x1="244.5" y1="210.5" x2="244.5" y2="310.4"/>
<line x1="260.0" y1="210.5" x2="260.0" y2="310.4"/>
<line x1="275.5" y1="210.5" x2="275.5" y2="310.4"/>
<line x1="291.0" y1="210.5" x2="291.0" y2="310.4"/>
<line x1="306.5" y1="210.5" x2="306.5" y2="310.4"/>
<line x1="322.0" y1="210.5" x2="322.0" y2="310.4"/>
<line x1="337.5" y1="210.5" x2="337.5" y2="310.4"/>
<line x1="353.0" y1="210.5" x2="353.0" y2="310.4"/>
<line x1="244.5" y1="210.5" x2="360.6" y2="210.5"/>
<line x1="244.5" y1="221.6" x2="360.6" y2="221.6"/>
<line x1="244.5" y1="232.7" x2="360.6" y2="232.7"/>
<line x1="244.5" y1="243.8" x2="360.6" y2="243.8"/>
<line x1="244.5" y1="254.9" x2="360.6" y2="254.9"/>
<line x1="244.5" y1="266.0" x2="360.6" y2="266.0"/>
<line x1="244.5" y1="277.1" x2="360.6" y2="277.1"/>
<line x1="244.5" y1="288.2" x2="360.6" y2="288.2"/>
<line x1="244.5" y1="299.3" x2="360.6" y2="299.3"/>
<line x1="244.5" y1="310.4" x2="360.6" y2="310.4"/>
</g>
<path d="M337.8,210.7 C336.6,211.4 333.1,213.1 330.5,214.7 C327.9,216.3 326.4,218.6 322.4,220.4 C318.3,222.2 311.6,223.8 306.2,225.3 C300.8,226.8 296.0,227.8 290.0,229.3 C284.0,230.8 274.7,233.2 270.0,234.5 C265.3,235.8 263.7,236.2 262.0,237.0 C260.3,237.8 260.0,238.3 259.6,239.5 C259.2,240.7 259.4,242.2 259.6,244.0 C259.8,245.8 260.4,248.0 260.6,250.0 C260.8,252.0 260.8,255.0 260.8,256.0" fill="none" stroke="#ED7D31" stroke-width="1.3" stroke-linejoin="round" stroke-linecap="round"/>
<path d="M338.6,212.3 C338.2,213.5 338.9,217.7 336.2,219.6 C333.5,221.5 327.4,222.2 322.4,223.6 C317.4,224.9 311.6,226.3 306.2,227.7 C300.8,229.0 296.0,230.3 290.0,231.7 C284.0,233.1 274.5,235.2 270.0,236.3 C265.5,237.4 264.4,237.6 263.0,238.5 C261.6,239.4 261.6,239.9 261.4,241.5 C261.2,243.1 261.5,245.8 261.6,248.0 C261.7,250.2 261.9,253.8 262.0,255.0" fill="none" stroke="#A5A5A5" stroke-width="1.3" stroke-linejoin="round" stroke-linecap="round"/>
<path d="M341.0,214.7 C340.9,215.8 340.9,219.6 340.2,221.2 C339.5,222.8 340.0,222.5 337.0,224.4 C334.0,226.3 327.5,230.0 322.4,232.6 C317.3,235.2 311.6,237.3 306.2,239.8 C300.8,242.3 294.4,245.4 290.0,247.5 C285.6,249.6 283.5,251.1 279.7,252.3 C275.9,253.5 269.9,253.9 267.0,254.8 C264.1,255.7 263.1,256.6 262.0,257.5 C260.9,258.4 260.8,259.6 260.5,260.0" fill="none" stroke="#FFC000" stroke-width="1.3" stroke-linejoin="round" stroke-linecap="round"/>
<path d="M343.5,213.9 C343.1,216.2 342.1,224.6 341.0,227.7 C339.9,230.8 340.1,230.7 337.0,232.6 C333.9,234.5 327.5,237.0 322.4,239.0 C317.3,241.0 311.6,242.7 306.2,244.7 C300.8,246.7 294.4,249.6 290.0,251.2 C285.6,252.8 283.5,253.2 279.7,254.0 C275.9,254.8 270.2,255.1 267.2,256.0 C264.2,256.9 262.6,257.8 261.5,259.5 C260.4,261.2 260.5,263.1 260.3,266.0 C260.1,268.9 260.2,273.7 260.3,277.0 C260.4,280.3 260.7,284.5 260.8,286.0" fill="none" stroke="#5B9BD5" stroke-width="1.3" stroke-linejoin="round" stroke-linecap="round"/>
<path d="M341.9,212.3 C341.9,215.1 342.4,224.7 341.9,229.3 C341.3,233.9 340.5,237.4 338.6,239.8 C336.7,242.2 334.6,242.4 330.5,243.9 C326.4,245.4 321.1,246.5 314.3,248.8 C307.6,251.1 295.4,255.2 290.0,257.7 C284.6,260.1 285.2,260.7 281.8,263.5 C278.4,266.3 272.8,270.9 269.3,274.5 C265.8,278.1 262.4,283.2 261.0,285.0" fill="none" stroke="#70AD47" stroke-width="1.3" stroke-linejoin="round" stroke-linecap="round"/>
<path d="M341.6,211.5 C342.5,212.8 345.2,216.4 346.8,219.2 C348.4,221.9 350.3,225.5 351.5,228.0 C352.7,230.5 353.6,232.4 353.9,234.4 C354.2,236.4 354.0,238.5 353.2,240.0 C352.4,241.5 351.9,241.9 349.0,243.4 C346.1,244.9 340.2,247.1 336.0,248.8 C331.8,250.5 331.7,250.6 324.0,253.8 C316.3,257.0 300.5,262.7 290.0,268.0 C279.5,273.3 265.8,282.8 261.0,285.8" fill="none" stroke="#264478" stroke-width="1.3" stroke-linejoin="round" stroke-linecap="round"/>
<path d="M341.9,211.5 C342.6,213.7 344.8,220.6 345.9,224.4 C347.0,228.2 348.2,231.1 348.3,234.2 C348.4,237.3 348.1,240.8 346.7,243.1 C345.3,245.4 342.3,246.2 340.2,248.0 C338.1,249.8 336.8,251.7 333.8,253.6 C330.8,255.5 329.7,256.1 322.4,259.3 C315.1,262.5 300.2,268.5 290.0,273.0 C279.8,277.5 265.9,283.3 261.0,286.5 C256.1,289.7 260.5,289.8 260.5,292.0 C260.5,294.2 260.9,296.9 261.0,300.0 C261.1,303.1 261.0,308.8 261.0,310.5" fill="none" stroke="#9E480E" stroke-width="1.3" stroke-linejoin="round" stroke-linecap="round"/>
<path d="M339.4,211.5 C339.1,213.1 338.1,214.7 337.8,221.2 C337.5,227.7 337.7,243.7 337.8,250.4 C337.9,257.1 337.9,258.5 338.6,261.7 C339.3,264.9 341.3,266.8 341.9,269.8 C342.5,272.9 342.1,277.3 342.0,280.0 C341.9,282.7 342.2,284.6 341.0,286.0 C339.8,287.4 340.8,287.8 335.0,288.5 C329.2,289.2 314.0,289.6 306.0,290.0 C298.0,290.4 291.2,290.4 287.0,291.0 C282.8,291.6 281.9,292.3 280.5,293.5 C279.1,294.7 279.3,295.2 278.8,298.0 C278.3,300.8 277.8,308.4 277.6,310.5" fill="none" stroke="#636363" stroke-width="1.3" stroke-linejoin="round" stroke-linecap="round"/>
<path d="M339.4,211.2 C340.6,213.8 344.8,221.8 346.8,226.8 C348.8,231.8 349.8,237.0 351.2,241.0 C352.6,245.0 354.3,248.1 355.5,250.8 C356.7,253.5 357.9,255.7 358.2,257.3 C358.4,258.9 358.2,259.3 357.0,260.6 C355.8,261.9 353.8,263.5 351.2,265.0 C348.6,266.5 344.2,268.3 341.5,269.8 C338.8,271.3 342.3,270.9 335.0,274.2 C327.7,277.5 307.9,283.6 297.9,289.7 C287.9,295.8 278.8,307.0 275.0,310.5" fill="none" stroke="#997300" stroke-width="1.3" stroke-linejoin="round" stroke-linecap="round"/>
<path d="M345.7,211.2 C345.7,212.0 345.1,214.6 345.7,215.9 C346.3,217.2 349.0,218.1 349.2,219.2 C349.4,220.3 347.4,220.2 346.8,222.4 C346.2,224.6 345.8,227.9 345.7,232.3 C345.6,236.7 345.9,244.3 346.3,248.6 C346.7,252.9 348.2,255.3 348.2,258.0 C348.2,260.6 348.7,261.4 346.5,264.5 C344.3,267.6 339.4,273.0 335.0,276.4 C330.6,279.8 323.8,282.8 320.0,285.0 C316.2,287.2 315.7,287.9 312.0,289.7 C308.3,291.4 303.6,292.0 297.9,295.5 C292.2,299.0 281.0,308.0 277.6,310.5" fill="none" stroke="#255E91" stroke-width="1.3" stroke-linejoin="round" stroke-linecap="round"/>
<path d="M340.2,211.5 C340.5,215.8 341.6,229.0 341.9,237.4 C342.2,245.8 342.0,255.4 341.9,261.7 C341.8,268.0 341.6,271.4 341.0,275.0 C340.4,278.6 339.8,280.6 338.4,283.0 C337.0,285.4 338.7,285.1 332.6,289.7 C326.5,294.3 307.1,307.0 302.0,310.5" fill="none" stroke="#43682B" stroke-width="1.3" stroke-linejoin="round" stroke-linecap="round"/>
<line x1="368.9" y1="208.7" x2="384.1" y2="208.7" stroke="#ED7D31" stroke-width="1.3"/>
<line x1="368.9" y1="218.5" x2="384.1" y2="218.5" stroke="#A5A5A5" stroke-width="1.3"/>
<line x1="368.9" y1="228.2" x2="384.1" y2="228.2" stroke="#FFC000" stroke-width="1.3"/>
<line x1="368.9" y1="238.0" x2="384.1" y2="238.0" stroke="#5B9BD5" stroke-width="1.3"/>
<line x1="368.9" y1="247.8" x2="384.1" y2="247.8" stroke="#70AD47" stroke-width="1.3"/>
<line x1="368.9" y1="257.5" x2="384.1" y2="257.5" stroke="#264478" stroke-width="1.3"/>
<line x1="368.9" y1="267.3" x2="384.1" y2="267.3" stroke="#9E480E" stroke-width="1.3"/>
<line x1="368.9" y1="277.1" x2="384.1" y2="277.1" stroke="#636363" stroke-width="1.3"/>
<line x1="368.9" y1="286.9" x2="384.1" y2="286.9" stroke="#997300" stroke-width="1.3"/>
<line x1="368.9" y1="296.6" x2="384.1" y2="296.6" stroke="#255E91" stroke-width="1.3"/>
<line x1="368.9" y1="306.4" x2="384.1" y2="306.4" stroke="#43682B" stroke-width="1.3"/>
<g stroke="#d9d9d9" stroke-width="0.8">
<line x1="270.9" y1="392.2" x2="270.9" y2="493.6"/>
<line x1="293.6" y1="392.2" x2="293.6" y2="493.6"/>
<line x1="316.4" y1="392.2" x2="316.4" y2="493.6"/>
<line x1="339.2" y1="392.2" x2="339.2" y2="493.6"/>
<line x1="362.0" y1="392.2" x2="362.0" y2="493.6"/>
<line x1="270.9" y1="392.2" x2="362.0" y2="392.2"/>
<line x1="270.9" y1="409.1" x2="362.0" y2="409.1"/>
<line x1="270.9" y1="426.0" x2="362.0" y2="426.0"/>
<line x1="270.9" y1="442.9" x2="362.0" y2="442.9"/>
<line x1="270.9" y1="459.8" x2="362.0" y2="459.8"/>
<line x1="270.9" y1="476.7" x2="362.0" y2="476.7"/>
<line x1="270.9" y1="493.6" x2="362.0" y2="493.6"/>
</g>
<path d="M333.8,392.3 L301.7,419.6 L294.4,446.2 L294.4,450.0" fill="none" stroke="#ED7D31" stroke-width="1.4" stroke-linejoin="round" stroke-linecap="round"/>
<path d="M341.9,392.5 L294.4,446.2" fill="none" stroke="#A5A5A5" stroke-width="1.4" stroke-linejoin="round" stroke-linecap="round"/>
<path d="M341.9,392.5 L324.4,419.8 L294.4,446.2 L294.4,486.2" fill="none" stroke="#FFC000" stroke-width="1.4" stroke-linejoin="round" stroke-linecap="round"/>
<line x1="370.0" y1="413.0" x2="385.9" y2="413.0" stroke="#ED7D31" stroke-width="1.3"/>
<line x1="370.0" y1="425.1" x2="385.9" y2="425.1" stroke="#A5A5A5" stroke-width="1.3"/>
<line x1="370.0" y1="437.2" x2="385.9" y2="437.2" stroke="#FFC000" stroke-width="1.3"/>
<line x1="4.5" y1="5.5" x2="424.5" y2="5.5" stroke="#7a7a7a" stroke-width="1"/>
<line x1="4.7" y1="5" x2="4.7" y2="544" stroke="#aaaaaa" stroke-width="1"/>
<line x1="424.4" y1="5" x2="424.4" y2="544" stroke="#707070" stroke-width="1"/>
<line x1="4.5" y1="184.8" x2="424.5" y2="184.8" stroke="#505050" stroke-width="1"/>
<line x1="4.5" y1="363.9" x2="424.5" y2="363.9" stroke="#505050" stroke-width="1"/>
<line x1="4.5" y1="543.3" x2="424.5" y2="543.3" stroke="#505050" stroke-width="1"/></svg>
<div class="t" style="left:92.60px;top:42.602px;"><span style="left:0.00px;top:-3.104px;font-size:9.2px;color:#111;font-family:'Liberation Serif', 'Times New Roman', serif;">1</span></div>
<div class="t" style="left:79.60px;top:48.052px;"><span style="left:0.00px;top:-3.536px;font-size:10.2px;color:#111;font-family:'Liberation Sans', Arial, sans-serif;">2</span></div>
<div class="t" style="left:64.50px;top:21.502px;"><span style="left:-4.84px;top:-1.005px;font-size:2.9px;color:#111;font-family:'Liberation Sans', Arial, sans-serif;">850</span></div>
<div class="t" style="left:64.50px;top:56.502px;"><span style="left:-4.84px;top:-1.005px;font-size:2.9px;color:#111;font-family:'Liberation Sans', Arial, sans-serif;">800</span></div>
<div class="t" style="left:64.50px;top:91.502px;"><span style="left:-4.84px;top:-1.005px;font-size:2.9px;color:#111;font-family:'Liberation Sans', Arial, sans-serif;">750</span></div>
<div class="t" style="left:64.50px;top:126.502px;"><span style="left:-4.84px;top:-1.005px;font-size:2.9px;color:#111;font-family:'Liberation Sans', Arial, sans-serif;">700</span></div>
<div class="t" style="left:64.50px;top:162.502px;"><span style="left:-4.84px;top:-1.005px;font-size:2.9px;color:#111;font-family:'Liberation Sans', Arial, sans-serif;">650</span></div>
<div class="t" style="left:66.80px;top:166.502px;"><span style="left:-0.81px;top:-1.005px;font-size:2.9px;color:#111;font-family:'Liberation Sans', Arial, sans-serif;">0</span></div>
<div class="t" style="left:102.01px;top:166.502px;"><span style="left:-1.61px;top:-1.005px;font-size:2.9px;color:#111;font-family:'Liberation Sans', Arial, sans-serif;">50</span></div>
<div class="t" style="left:137.22px;top:166.502px;"><span style="left:-2.42px;top:-1.005px;font-size:2.9px;color:#111;font-family:'Liberation Sans', Arial, sans-serif;">100</span></div>
<div class="t" style="left:172.43px;top:166.502px;"><span style="left:-2.42px;top:-1.005px;font-size:2.9px;color:#111;font-family:'Liberation Sans', Arial, sans-serif;">150</span></div>
<div class="t" style="left:207.64px;top:166.502px;"><span style="left:-2.42px;top:-1.005px;font-size:2.9px;color:#111;font-family:'Liberation Sans', Arial, sans-serif;">200</span></div>
<div class="t" style="left:242.85px;top:166.502px;"><span style="left:-2.42px;top:-1.005px;font-size:2.9px;color:#111;font-family:'Liberation Sans', Arial, sans-serif;">250</span></div>
<div class="t" style="left:278.06px;top:166.502px;"><span style="left:-2.42px;top:-1.005px;font-size:2.9px;color:#111;font-family:'Liberation Sans', Arial, sans-serif;">300</span></div>
<div class="t" style="left:313.27px;top:166.502px;"><span style="left:-2.42px;top:-1.005px;font-size:2.9px;color:#111;font-family:'Liberation Sans', Arial, sans-serif;">350</span></div>
<div class="t" style="left:181.60px;top:174.102px;transform:scaleX(1.0406);"><span style="left:0.00px;top:-1.595px;font-size:4.6px;color:#000;font-family:'Liberation Sans', Arial, sans-serif;">Distance [m]</span></div>
<div class="t" style="left:55.00px;top:119.200px;transform:rotate(-90deg) scaleX(1.0744);"><span style="left:0.00px;top:-1.560px;font-size:4.5px;color:#000;font-family:'Liberation Sans', Arial, sans-serif;">Elevation [m a.s.l.]</span></div>
<div class="t" style="left:92.60px;top:230.602px;"><span style="left:0.00px;top:-3.104px;font-size:9.2px;color:#111;font-family:'Liberation Serif', 'Times New Roman', serif;">1</span></div>
<div class="t" style="left:79.60px;top:236.052px;"><span style="left:0.00px;top:-3.536px;font-size:10.2px;color:#111;font-family:'Liberation Sans', Arial, sans-serif;">2</span></div>
<div class="t" style="left:63.00px;top:208.502px;"><span style="left:-4.84px;top:-1.005px;font-size:2.9px;color:#111;font-family:'Liberation Sans', Arial, sans-serif;">850</span></div>
<div class="t" style="left:63.00px;top:243.502px;"><span style="left:-4.84px;top:-1.005px;font-size:2.9px;color:#111;font-family:'Liberation Sans', Arial, sans-serif;">800</span></div>
<div class="t" style="left:63.00px;top:279.502px;"><span style="left:-4.84px;top:-1.005px;font-size:2.9px;color:#111;font-family:'Liberation Sans', Arial, sans-serif;">750</span></div>
<div class="t" style="left:63.00px;top:314.502px;"><span style="left:-4.84px;top:-1.005px;font-size:2.9px;color:#111;font-family:'Liberation Sans', Arial, sans-serif;">700</span></div>
<div class="t" style="left:63.00px;top:349.502px;"><span style="left:-4.84px;top:-1.005px;font-size:2.9px;color:#111;font-family:'Liberation Sans', Arial, sans-serif;">650</span></div>
<div class="t" style="left:65.30px;top:353.502px;"><span style="left:-0.81px;top:-1.005px;font-size:2.9px;color:#111;font-family:'Liberation Sans', Arial, sans-serif;">0</span></div>
<div class="t" style="left:100.51px;top:353.502px;"><span style="left:-1.61px;top:-1.005px;font-size:2.9px;color:#111;font-family:'Liberation Sans', Arial, sans-serif;">50</span></div>
<div class="t" style="left:135.72px;top:353.502px;"><span style="left:-2.42px;top:-1.005px;font-size:2.9px;color:#111;font-family:'Liberation Sans', Arial, sans-serif;">100</span></div>
<div class="t" style="left:170.93px;top:353.502px;"><span style="left:-2.42px;top:-1.005px;font-size:2.9px;color:#111;font-family:'Liberation Sans', Arial, sans-serif;">150</span></div>
<div class="t" style="left:206.14px;top:353.502px;"><span style="left:-2.42px;top:-1.005px;font-size:2.9px;color:#111;font-family:'Liberation Sans', Arial, sans-serif;">200</span></div>
<div class="t" style="left:241.35px;top:353.502px;"><span style="left:-2.42px;top:-1.005px;font-size:2.9px;color:#111;font-family:'Liberation Sans', Arial, sans-serif;">250</span></div>
<div class="t" style="left:276.56px;top:353.502px;"><span style="left:-2.42px;top:-1.005px;font-size:2.9px;color:#111;font-family:'Liberation Sans', Arial, sans-serif;">300</span></div>
<div class="t" style="left:311.77px;top:353.502px;"><span style="left:-2.42px;top:-1.005px;font-size:2.9px;color:#111;font-family:'Liberation Sans', Arial, sans-serif;">350</span></div>
<div class="t" style="left:180.10px;top:362.102px;transform:scaleX(1.0406);"><span style="left:0.00px;top:-1.595px;font-size:4.6px;color:#000;font-family:'Liberation Sans', Arial, sans-serif;">Distance [m]</span></div>
<div class="t" style="left:53.50px;top:306.700px;transform:rotate(-90deg) scaleX(1.0744);"><span style="left:0.00px;top:-1.560px;font-size:4.5px;color:#000;font-family:'Liberation Sans', Arial, sans-serif;">Elevation [m a.s.l.]</span></div>
<div class="t" style="left:92.56px;top:405.652px;"><span style="left:0.00px;top:-3.123px;font-size:9.255px;color:#111;font-family:'Liberation Serif', 'Times New Roman', serif;">1</span></div>
<div class="t" style="left:79.48px;top:411.052px;"><span style="left:0.00px;top:-3.557px;font-size:10.261px;color:#111;font-family:'Liberation Sans', Arial, sans-serif;">2</span></div>
<div class="t" style="left:63.87px;top:382.552px;"><span style="left:-4.90px;top:-1.018px;font-size:2.936px;color:#111;font-family:'Liberation Sans', Arial, sans-serif;">850</span></div>
<div class="t" style="left:63.87px;top:417.552px;"><span style="left:-4.90px;top:-1.018px;font-size:2.936px;color:#111;font-family:'Liberation Sans', Arial, sans-serif;">800</span></div>
<div class="t" style="left:63.87px;top:453.552px;"><span style="left:-4.90px;top:-1.018px;font-size:2.936px;color:#111;font-family:'Liberation Sans', Arial, sans-serif;">750</span></div>
<div class="t" style="left:63.87px;top:489.552px;"><span style="left:-4.90px;top:-1.018px;font-size:2.936px;color:#111;font-family:'Liberation Sans', Arial, sans-serif;">700</span></div>
<div class="t" style="left:63.87px;top:524.552px;"><span style="left:-4.90px;top:-1.018px;font-size:2.936px;color:#111;font-family:'Liberation Sans', Arial, sans-serif;">650</span></div>
<div class="t" style="left:66.20px;top:528.552px;"><span style="left:-0.82px;top:-1.018px;font-size:2.936px;color:#111;font-family:'Liberation Sans', Arial, sans-serif;">0</span></div>
<div class="t" style="left:101.85px;top:528.552px;"><span style="left:-1.63px;top:-1.018px;font-size:2.936px;color:#111;font-family:'Liberation Sans', Arial, sans-serif;">50</span></div>
<div class="t" style="left:137.50px;top:528.552px;"><span style="left:-2.45px;top:-1.018px;font-size:2.936px;color:#111;font-family:'Liberation Sans', Arial, sans-serif;">100</span></div>
<div class="t" style="left:173.15px;top:528.552px;"><span style="left:-2.45px;top:-1.018px;font-size:2.936px;color:#111;font-family:'Liberation Sans', Arial, sans-serif;">150</span></div>
<div class="t" style="left:208.80px;top:528.552px;"><span style="left:-2.45px;top:-1.018px;font-size:2.936px;color:#111;font-family:'Liberation Sans', Arial, sans-serif;">200</span></div>
<div class="t" style="left:244.45px;top:528.552px;"><span style="left:-2.45px;top:-1.018px;font-size:2.936px;color:#111;font-family:'Liberation Sans', Arial, sans-serif;">250</span></div>
<div class="t" style="left:280.10px;top:528.552px;"><span style="left:-2.45px;top:-1.018px;font-size:2.936px;color:#111;font-family:'Liberation Sans', Arial, sans-serif;">300</span></div>
<div class="t" style="left:315.75px;top:528.552px;"><span style="left:-2.45px;top:-1.018px;font-size:2.936px;color:#111;font-family:'Liberation Sans', Arial, sans-serif;">350</span></div>
<div class="t" style="left:182.44px;top:537.152px;transform:scaleX(1.0405);"><span style="left:0.00px;top:-1.615px;font-size:4.658px;color:#000;font-family:'Liberation Sans', Arial, sans-serif;">Distance [m]</span></div>
<div class="t" style="left:54.25px;top:481.332px;transform:rotate(-90deg) scaleX(1.0745);"><span style="left:0.00px;top:-1.579px;font-size:4.556px;color:#000;font-family:'Liberation Sans', Arial, sans-serif;">Elevation [m a.s.l.]</span></div>
<div class="t" style="left:9.00px;top:24.252px;transform:scaleX(0.9726);"><span style="left:0.00px;top:-1.733px;font-size:5.0px;color:#000;font-family:'Liberation Sans', Arial, sans-serif;-webkit-text-stroke:0.08px #000;">Water Pressure</span></div>
<div class="t" style="left:14.80px;top:33.252px;"><span style="left:0.00px;top:-1.716px;font-size:4.95px;color:#000;font-family:'Liberation Sans', Arial, sans-serif;-webkit-text-stroke:0.08px #000;">-30 - -20 kPa</span></div>
<div class="t" style="left:14.80px;top:38.252px;"><span style="left:0.00px;top:-1.716px;font-size:4.95px;color:#000;font-family:'Liberation Sans', Arial, sans-serif;-webkit-text-stroke:0.08px #000;">-20 - -10 kPa</span></div>
<div class="t" style="left:14.80px;top:44.252px;"><span style="left:0.00px;top:-1.716px;font-size:4.95px;color:#000;font-family:'Liberation Sans', Arial, sans-serif;-webkit-text-stroke:0.08px #000;">-10 - 0 kPa</span></div>
<div class="t" style="left:14.80px;top:50.252px;"><span style="left:0.00px;top:-1.716px;font-size:4.95px;color:#000;font-family:'Liberation Sans', Arial, sans-serif;-webkit-text-stroke:0.08px #000;">0 - 10 kPa</span></div>
<div class="t" style="left:14.80px;top:55.252px;"><span style="left:0.00px;top:-1.716px;font-size:4.95px;color:#000;font-family:'Liberation Sans', Arial, sans-serif;-webkit-text-stroke:0.08px #000;">10 - 20 kPa</span></div>
<div class="t" style="left:14.80px;top:61.252px;"><span style="left:0.00px;top:-1.716px;font-size:4.95px;color:#000;font-family:'Liberation Sans', Arial, sans-serif;-webkit-text-stroke:0.08px #000;">20 - 30 kPa</span></div>
<div class="t" style="left:14.80px;top:66.252px;"><span style="left:0.00px;top:-1.716px;font-size:4.95px;color:#000;font-family:'Liberation Sans', Arial, sans-serif;-webkit-text-stroke:0.08px #000;">30 - 40 kPa</span></div>
<div class="t" style="left:14.80px;top:72.252px;"><span style="left:0.00px;top:-1.716px;font-size:4.95px;color:#000;font-family:'Liberation Sans', Arial, sans-serif;-webkit-text-stroke:0.08px #000;">40 - 50 kPa</span></div>
<div class="t" style="left:14.80px;top:78.252px;"><span style="left:0.00px;top:-1.716px;font-size:4.95px;color:#000;font-family:'Liberation Sans', Arial, sans-serif;-webkit-text-stroke:0.08px #000;">50 - 60 kPa</span></div>
<div class="t" style="left:14.80px;top:83.252px;"><span style="left:0.00px;top:-1.716px;font-size:4.95px;color:#000;font-family:'Liberation Sans', Arial, sans-serif;-webkit-text-stroke:0.08px #000;">60 - 70 kPa</span></div>
<div class="t" style="left:14.80px;top:89.252px;"><span style="left:0.00px;top:-1.716px;font-size:4.95px;color:#000;font-family:'Liberation Sans', Arial, sans-serif;-webkit-text-stroke:0.08px #000;">70 - 80 kPa</span></div>
<div class="t" style="left:14.80px;top:94.252px;"><span style="left:0.00px;top:-1.716px;font-size:4.95px;color:#000;font-family:'Liberation Sans', Arial, sans-serif;-webkit-text-stroke:0.08px #000;">80 - 90 kPa</span></div>
<div class="t" style="left:14.80px;top:100.252px;"><span style="left:0.00px;top:-1.716px;font-size:4.95px;color:#000;font-family:'Liberation Sans', Arial, sans-serif;-webkit-text-stroke:0.08px #000;">90 - 100 kPa</span></div>
<div class="t" style="left:9.00px;top:208.252px;transform:scaleX(0.9726);"><span style="left:0.00px;top:-1.733px;font-size:5.0px;color:#000;font-family:'Liberation Sans', Arial, sans-serif;-webkit-text-stroke:0.08px #000;">Water Pressure</span></div>
<div class="t" style="left:14.80px;top:217.252px;"><span style="left:0.00px;top:-1.716px;font-size:4.95px;color:#000;font-family:'Liberation Sans', Arial, sans-serif;-webkit-text-stroke:0.08px #000;">-30 - -20 kPa</span></div>
<div class="t" style="left:14.80px;top:223.252px;"><span style="left:0.00px;top:-1.716px;font-size:4.95px;color:#000;font-family:'Liberation Sans', Arial, sans-serif;-webkit-text-stroke:0.08px #000;">-20 - -10 kPa</span></div>
<div class="t" style="left:14.80px;top:229.252px;"><span style="left:0.00px;top:-1.716px;font-size:4.95px;color:#000;font-family:'Liberation Sans', Arial, sans-serif;-webkit-text-stroke:0.08px #000;">-10 - 0 kPa</span></div>
<div class="t" style="left:14.80px;top:234.252px;"><span style="left:0.00px;top:-1.716px;font-size:4.95px;color:#000;font-family:'Liberation Sans', Arial, sans-serif;-webkit-text-stroke:0.08px #000;">0 - 10 kPa</span></div>
<div class="t" style="left:14.80px;top:240.252px;"><span style="left:0.00px;top:-1.716px;font-size:4.95px;color:#000;font-family:'Liberation Sans', Arial, sans-serif;-webkit-text-stroke:0.08px #000;">10 - 20 kPa</span></div>
<div class="t" style="left:14.80px;top:246.252px;"><span style="left:0.00px;top:-1.716px;font-size:4.95px;color:#000;font-family:'Liberation Sans', Arial, sans-serif;-webkit-text-stroke:0.08px #000;">20 - 30 kPa</span></div>
<div class="t" style="left:14.80px;top:251.252px;"><span style="left:0.00px;top:-1.716px;font-size:4.95px;color:#000;font-family:'Liberation Sans', Arial, sans-serif;-webkit-text-stroke:0.08px #000;">30 - 40 kPa</span></div>
<div class="t" style="left:14.80px;top:257.252px;"><span style="left:0.00px;top:-1.716px;font-size:4.95px;color:#000;font-family:'Liberation Sans', Arial, sans-serif;-webkit-text-stroke:0.08px #000;">40 - 50 kPa</span></div>
<div class="t" style="left:14.80px;top:262.252px;"><span style="left:0.00px;top:-1.716px;font-size:4.95px;color:#000;font-family:'Liberation Sans', Arial, sans-serif;-webkit-text-stroke:0.08px #000;">50 - 60 kPa</span></div>
<div class="t" style="left:14.80px;top:268.252px;"><span style="left:0.00px;top:-1.716px;font-size:4.95px;color:#000;font-family:'Liberation Sans', Arial, sans-serif;-webkit-text-stroke:0.08px #000;">60 - 70 kPa</span></div>
<div class="t" style="left:14.80px;top:274.252px;"><span style="left:0.00px;top:-1.716px;font-size:4.95px;color:#000;font-family:'Liberation Sans', Arial, sans-serif;-webkit-text-stroke:0.08px #000;">70 - 80 kPa</span></div>
<div class="t" style="left:14.80px;top:279.252px;"><span style="left:0.00px;top:-1.716px;font-size:4.95px;color:#000;font-family:'Liberation Sans', Arial, sans-serif;-webkit-text-stroke:0.08px #000;">80 - 90 kPa</span></div>
<div class="t" style="left:14.80px;top:285.252px;"><span style="left:0.00px;top:-1.716px;font-size:4.95px;color:#000;font-family:'Liberation Sans', Arial, sans-serif;-webkit-text-stroke:0.08px #000;">90 - 100 kPa</span></div>
<div class="t" style="left:12.00px;top:382.252px;transform:scaleX(0.9726);"><span style="left:0.00px;top:-1.733px;font-size:5.0px;color:#000;font-family:'Liberation Sans', Arial, sans-serif;-webkit-text-stroke:0.08px #000;">Water Pressure</span></div>
<div class="t" style="left:17.80px;top:391.252px;"><span style="left:0.00px;top:-1.716px;font-size:4.95px;color:#000;font-family:'Liberation Sans', Arial, sans-serif;-webkit-text-stroke:0.08px #000;">-30 - -20 kPa</span></div>
<div class="t" style="left:17.80px;top:396.252px;"><span style="left:0.00px;top:-1.716px;font-size:4.95px;color:#000;font-family:'Liberation Sans', Arial, sans-serif;-webkit-text-stroke:0.08px #000;">-20 - -10 kPa</span></div>
<div class="t" style="left:17.80px;top:402.252px;"><span style="left:0.00px;top:-1.716px;font-size:4.95px;color:#000;font-family:'Liberation Sans', Arial, sans-serif;-webkit-text-stroke:0.08px #000;">-10 - 0 kPa</span></div>
<div class="t" style="left:17.80px;top:408.252px;"><span style="left:0.00px;top:-1.716px;font-size:4.95px;color:#000;font-family:'Liberation Sans', Arial, sans-serif;-webkit-text-stroke:0.08px #000;">0 - 10 kPa</span></div>
<div class="t" style="left:17.80px;top:413.252px;"><span style="left:0.00px;top:-1.716px;font-size:4.95px;color:#000;font-family:'Liberation Sans', Arial, sans-serif;-webkit-text-stroke:0.08px #000;">10 - 20 kPa</span></div>
<div class="t" style="left:17.80px;top:419.252px;"><span style="left:0.00px;top:-1.716px;font-size:4.95px;color:#000;font-family:'Liberation Sans', Arial, sans-serif;-webkit-text-stroke:0.08px #000;">20 - 30 kPa</span></div>
<div class="t" style="left:17.80px;top:424.252px;"><span style="left:0.00px;top:-1.716px;font-size:4.95px;color:#000;font-family:'Liberation Sans', Arial, sans-serif;-webkit-text-stroke:0.08px #000;">30 - 40 kPa</span></div>
<div class="t" style="left:17.80px;top:430.252px;"><span style="left:0.00px;top:-1.716px;font-size:4.95px;color:#000;font-family:'Liberation Sans', Arial, sans-serif;-webkit-text-stroke:0.08px #000;">40 - 50 kPa</span></div>
<div class="t" style="left:17.80px;top:436.252px;"><span style="left:0.00px;top:-1.716px;font-size:4.95px;color:#000;font-family:'Liberation Sans', Arial, sans-serif;-webkit-text-stroke:0.08px #000;">50 - 60 kPa</span></div>
<div class="t" style="left:17.80px;top:441.252px;"><span style="left:0.00px;top:-1.716px;font-size:4.95px;color:#000;font-family:'Liberation Sans', Arial, sans-serif;-webkit-text-stroke:0.08px #000;">60 - 70 kPa</span></div>
<div class="t" style="left:17.80px;top:447.252px;"><span style="left:0.00px;top:-1.716px;font-size:4.95px;color:#000;font-family:'Liberation Sans', Arial, sans-serif;-webkit-text-stroke:0.08px #000;">70 - 80 kPa</span></div>
<div class="t" style="left:17.80px;top:452.252px;"><span style="left:0.00px;top:-1.716px;font-size:4.95px;color:#000;font-family:'Liberation Sans', Arial, sans-serif;-webkit-text-stroke:0.08px #000;">80 - 90 kPa</span></div>
<div class="t" style="left:17.80px;top:458.252px;"><span style="left:0.00px;top:-1.716px;font-size:4.95px;color:#000;font-family:'Liberation Sans', Arial, sans-serif;-webkit-text-stroke:0.08px #000;">90 - 100 kPa</span></div>
<div class="t" style="left:320.60px;top:35.002px;transform:scaleX(0.8657);"><span style="left:-12.01px;top:-2.496px;font-size:7.2px;color:#595959;font-family:'Liberation Sans', Arial, sans-serif;">805</span></div>
<div class="t" style="left:320.60px;top:46.002px;transform:scaleX(0.8657);"><span style="left:-12.01px;top:-2.496px;font-size:7.2px;color:#595959;font-family:'Liberation Sans', Arial, sans-serif;">804</span></div>
<div class="t" style="left:320.60px;top:56.002px;transform:scaleX(0.8657);"><span style="left:-12.01px;top:-2.496px;font-size:7.2px;color:#595959;font-family:'Liberation Sans', Arial, sans-serif;">803</span></div>
<div class="t" style="left:320.60px;top:67.002px;transform:scaleX(0.8657);"><span style="left:-12.01px;top:-2.496px;font-size:7.2px;color:#595959;font-family:'Liberation Sans', Arial, sans-serif;">802</span></div>
<div class="t" style="left:320.60px;top:78.002px;transform:scaleX(0.8657);"><span style="left:-12.01px;top:-2.496px;font-size:7.2px;color:#595959;font-family:'Liberation Sans', Arial, sans-serif;">801</span></div>
<div class="t" style="left:320.60px;top:88.002px;transform:scaleX(0.8657);"><span style="left:-12.01px;top:-2.496px;font-size:7.2px;color:#595959;font-family:'Liberation Sans', Arial, sans-serif;">800</span></div>
<div class="t" style="left:320.60px;top:99.002px;transform:scaleX(0.8657);"><span style="left:-12.01px;top:-2.496px;font-size:7.2px;color:#595959;font-family:'Liberation Sans', Arial, sans-serif;">799</span></div>
<div class="t" style="left:320.60px;top:110.002px;transform:scaleX(0.8657);"><span style="left:-12.01px;top:-2.496px;font-size:7.2px;color:#595959;font-family:'Liberation Sans', Arial, sans-serif;">798</span></div>
<div class="t" style="left:320.60px;top:120.002px;transform:scaleX(0.8657);"><span style="left:-12.01px;top:-2.496px;font-size:7.2px;color:#595959;font-family:'Liberation Sans', Arial, sans-serif;">797</span></div>
<div class="t" style="left:320.60px;top:131.002px;transform:scaleX(0.8657);"><span style="left:-12.01px;top:-2.496px;font-size:7.2px;color:#595959;font-family:'Liberation Sans', Arial, sans-serif;">796</span></div>
<div class="t" style="left:265.16px;top:26.002px;transform:scaleX(0.8800);"><span style="left:-5.20px;top:-2.496px;font-size:7.2px;color:#595959;font-family:'Liberation Sans', Arial, sans-serif;">-12</span></div>
<div class="t" style="left:275.40px;top:26.002px;transform:scaleX(0.8800);"><span style="left:-5.20px;top:-2.496px;font-size:7.2px;color:#595959;font-family:'Liberation Sans', Arial, sans-serif;">-10</span></div>
<div class="t" style="left:285.64px;top:26.002px;transform:scaleX(0.8800);"><span style="left:-3.20px;top:-2.496px;font-size:7.2px;color:#595959;font-family:'Liberation Sans', Arial, sans-serif;">-8</span></div>
<div class="t" style="left:295.88px;top:26.002px;transform:scaleX(0.8800);"><span style="left:-3.20px;top:-2.496px;font-size:7.2px;color:#595959;font-family:'Liberation Sans', Arial, sans-serif;">-6</span></div>
<div class="t" style="left:306.12px;top:26.002px;transform:scaleX(0.8800);"><span style="left:-3.20px;top:-2.496px;font-size:7.2px;color:#595959;font-family:'Liberation Sans', Arial, sans-serif;">-4</span></div>
<div class="t" style="left:316.36px;top:26.002px;transform:scaleX(0.8800);"><span style="left:-3.20px;top:-2.496px;font-size:7.2px;color:#595959;font-family:'Liberation Sans', Arial, sans-serif;">-2</span></div>
<div class="t" style="left:326.60px;top:26.002px;transform:scaleX(0.8800);"><span style="left:-2.00px;top:-2.496px;font-size:7.2px;color:#595959;font-family:'Liberation Sans', Arial, sans-serif;">0</span></div>
<div class="t" style="left:336.84px;top:26.002px;transform:scaleX(0.8800);"><span style="left:-2.00px;top:-2.496px;font-size:7.2px;color:#595959;font-family:'Liberation Sans', Arial, sans-serif;">2</span></div>
<div class="t" style="left:347.08px;top:26.002px;transform:scaleX(0.8800);"><span style="left:-2.00px;top:-2.496px;font-size:7.2px;color:#595959;font-family:'Liberation Sans', Arial, sans-serif;">4</span></div>
<div class="t" style="left:292.40px;top:14.752px;transform:scaleX(0.7965);"><span style="left:0.00px;top:-3.259px;font-size:9.4px;color:#595959;font-family:'Liberation Sans', Arial, sans-serif;">Pressure [kPa]</span></div>
<div class="t" style="left:256.90px;top:109.000px;transform:rotate(-90deg) scaleX(0.9438);"><span style="left:0.00px;top:-2.877px;font-size:8.3px;color:#595959;font-family:'Liberation Sans', Arial, sans-serif;">Elevation [m a.s.l.]</span></div>
<div class="t" style="left:372.60px;top:38.152px;transform:scaleX(0.8913);"><span style="left:0.00px;top:-2.635px;font-size:7.6px;color:#595959;font-family:'Liberation Sans', Arial, sans-serif;">21/11/2016</span></div>
<div class="t" style="left:372.60px;top:52.152px;transform:scaleX(0.8913);"><span style="left:0.00px;top:-2.635px;font-size:7.6px;color:#595959;font-family:'Liberation Sans', Arial, sans-serif;">22/11/2016</span></div>
<div class="t" style="left:372.60px;top:67.152px;transform:scaleX(0.8913);"><span style="left:0.00px;top:-2.635px;font-size:7.6px;color:#595959;font-family:'Liberation Sans', Arial, sans-serif;">23/11/2016</span></div>
<div class="t" style="left:372.60px;top:81.152px;transform:scaleX(0.8913);"><span style="left:0.00px;top:-2.635px;font-size:7.6px;color:#595959;font-family:'Liberation Sans', Arial, sans-serif;">24/11/2016</span></div>
<div class="t" style="left:372.60px;top:96.152px;transform:scaleX(0.8913);"><span style="left:0.00px;top:-2.635px;font-size:7.6px;color:#595959;font-family:'Liberation Sans', Arial, sans-serif;">25/11/2016</span></div>
<div class="t" style="left:372.60px;top:111.152px;transform:scaleX(0.8913);"><span style="left:0.00px;top:-2.635px;font-size:7.6px;color:#595959;font-family:'Liberation Sans', Arial, sans-serif;">26/11/2016</span></div>
<div class="t" style="left:372.60px;top:125.152px;transform:scaleX(0.8913);"><span style="left:0.00px;top:-2.635px;font-size:7.6px;color:#595959;font-family:'Liberation Sans', Arial, sans-serif;">27/11/2016</span></div>
<div class="t" style="left:331.00px;top:213.102px;transform:scaleX(0.8585);"><span style="left:-12.35px;top:-2.565px;font-size:7.4px;color:#595959;font-family:'Liberation Sans', Arial, sans-serif;">802</span></div>
<div class="t" style="left:331.00px;top:224.102px;transform:scaleX(0.8585);"><span style="left:-12.35px;top:-2.565px;font-size:7.4px;color:#595959;font-family:'Liberation Sans', Arial, sans-serif;">801</span></div>
<div class="t" style="left:331.00px;top:235.102px;transform:scaleX(0.8585);"><span style="left:-12.35px;top:-2.565px;font-size:7.4px;color:#595959;font-family:'Liberation Sans', Arial, sans-serif;">800</span></div>
<div class="t" style="left:331.00px;top:246.102px;transform:scaleX(0.8585);"><span style="left:-12.35px;top:-2.565px;font-size:7.4px;color:#595959;font-family:'Liberation Sans', Arial, sans-serif;">799</span></div>
<div class="t" style="left:331.00px;top:258.102px;transform:scaleX(0.8585);"><span style="left:-12.35px;top:-2.565px;font-size:7.4px;color:#595959;font-family:'Liberation Sans', Arial, sans-serif;">798</span></div>
<div class="t" style="left:331.00px;top:269.102px;transform:scaleX(0.8585);"><span style="left:-12.35px;top:-2.565px;font-size:7.4px;color:#595959;font-family:'Liberation Sans', Arial, sans-serif;">797</span></div>
<div class="t" style="left:331.00px;top:280.102px;transform:scaleX(0.8585);"><span style="left:-12.35px;top:-2.565px;font-size:7.4px;color:#595959;font-family:'Liberation Sans', Arial, sans-serif;">796</span></div>
<div class="t" style="left:331.00px;top:291.102px;transform:scaleX(0.8585);"><span style="left:-12.35px;top:-2.565px;font-size:7.4px;color:#595959;font-family:'Liberation Sans', Arial, sans-serif;">795</span></div>
<div class="t" style="left:331.00px;top:302.102px;transform:scaleX(0.8585);"><span style="left:-12.35px;top:-2.565px;font-size:7.4px;color:#595959;font-family:'Liberation Sans', Arial, sans-serif;">794</span></div>
<div class="t" style="left:331.00px;top:313.102px;transform:scaleX(0.8585);"><span style="left:-12.35px;top:-2.565px;font-size:7.4px;color:#595959;font-family:'Liberation Sans', Arial, sans-serif;">793</span></div>
<div class="t" style="left:244.50px;top:204.102px;transform:scaleX(0.8800);"><span style="left:-5.35px;top:-2.565px;font-size:7.4px;color:#595959;font-family:'Liberation Sans', Arial, sans-serif;">-12</span></div>
<div class="t" style="left:260.00px;top:204.102px;transform:scaleX(0.8800);"><span style="left:-5.35px;top:-2.565px;font-size:7.4px;color:#595959;font-family:'Liberation Sans', Arial, sans-serif;">-10</span></div>
<div class="t" style="left:275.50px;top:204.102px;transform:scaleX(0.8800);"><span style="left:-3.29px;top:-2.565px;font-size:7.4px;color:#595959;font-family:'Liberation Sans', Arial, sans-serif;">-8</span></div>
<div class="t" style="left:291.00px;top:204.102px;transform:scaleX(0.8800);"><span style="left:-3.29px;top:-2.565px;font-size:7.4px;color:#595959;font-family:'Liberation Sans', Arial, sans-serif;">-6</span></div>
<div class="t" style="left:306.50px;top:204.102px;transform:scaleX(0.8800);"><span style="left:-3.29px;top:-2.565px;font-size:7.4px;color:#595959;font-family:'Liberation Sans', Arial, sans-serif;">-4</span></div>
<div class="t" style="left:322.00px;top:204.102px;transform:scaleX(0.8800);"><span style="left:-3.29px;top:-2.565px;font-size:7.4px;color:#595959;font-family:'Liberation Sans', Arial, sans-serif;">-2</span></div>
<div class="t" style="left:337.50px;top:204.102px;transform:scaleX(0.8800);"><span style="left:-2.06px;top:-2.565px;font-size:7.4px;color:#595959;font-family:'Liberation Sans', Arial, sans-serif;">0</span></div>
<div class="t" style="left:353.00px;top:204.102px;transform:scaleX(0.8800);"><span style="left:-2.06px;top:-2.565px;font-size:7.4px;color:#595959;font-family:'Liberation Sans', Arial, sans-serif;">2</span></div>
<div class="t" style="left:269.80px;top:193.752px;transform:scaleX(0.7287);"><span style="left:0.00px;top:-3.259px;font-size:9.4px;color:#595959;font-family:'Liberation Sans', Arial, sans-serif;">Pressure [kPa])</span></div>
<div class="t" style="left:241.80px;top:289.200px;transform:rotate(-90deg) scaleX(0.8612);"><span style="left:0.00px;top:-2.877px;font-size:8.3px;color:#595959;font-family:'Liberation Sans', Arial, sans-serif;">Elevation [m a.s.l.]</span></div>
<div class="t" style="left:385.60px;top:211.152px;transform:scaleX(0.8966);"><span style="left:0.00px;top:-2.635px;font-size:7.6px;color:#595959;font-family:'Liberation Sans', Arial, sans-serif;">15/11/2019</span></div>
<div class="t" style="left:385.60px;top:221.152px;transform:scaleX(0.8966);"><span style="left:0.00px;top:-2.635px;font-size:7.6px;color:#595959;font-family:'Liberation Sans', Arial, sans-serif;">16/11/2019</span></div>
<div class="t" style="left:385.60px;top:231.152px;transform:scaleX(0.8966);"><span style="left:0.00px;top:-2.635px;font-size:7.6px;color:#595959;font-family:'Liberation Sans', Arial, sans-serif;">17/11/2019</span></div>
<div class="t" style="left:385.60px;top:241.152px;transform:scaleX(0.8966);"><span style="left:0.00px;top:-2.635px;font-size:7.6px;color:#595959;font-family:'Liberation Sans', Arial, sans-serif;">18/11/2019</span></div>
<div class="t" style="left:385.60px;top:250.152px;transform:scaleX(0.8966);"><span style="left:0.00px;top:-2.635px;font-size:7.6px;color:#595959;font-family:'Liberation Sans', Arial, sans-serif;">19/11/2019</span></div>
<div class="t" style="left:385.60px;top:260.152px;transform:scaleX(0.8966);"><span style="left:0.00px;top:-2.635px;font-size:7.6px;color:#595959;font-family:'Liberation Sans', Arial, sans-serif;">20/11/2019</span></div>
<div class="t" style="left:385.60px;top:270.152px;transform:scaleX(0.8966);"><span style="left:0.00px;top:-2.635px;font-size:7.6px;color:#595959;font-family:'Liberation Sans', Arial, sans-serif;">21/11/2019</span></div>
<div class="t" style="left:385.60px;top:280.152px;transform:scaleX(0.8966);"><span style="left:0.00px;top:-2.635px;font-size:7.6px;color:#595959;font-family:'Liberation Sans', Arial, sans-serif;">22/11/2019</span></div>
<div class="t" style="left:385.60px;top:290.152px;transform:scaleX(0.8966);"><span style="left:0.00px;top:-2.635px;font-size:7.6px;color:#595959;font-family:'Liberation Sans', Arial, sans-serif;">23/11/2019</span></div>
<div class="t" style="left:385.60px;top:299.152px;transform:scaleX(0.8966);"><span style="left:0.00px;top:-2.635px;font-size:7.6px;color:#595959;font-family:'Liberation Sans', Arial, sans-serif;">24/11/2019</span></div>
<div class="t" style="left:385.60px;top:309.152px;transform:scaleX(0.8966);"><span style="left:0.00px;top:-2.635px;font-size:7.6px;color:#595959;font-family:'Liberation Sans', Arial, sans-serif;">25/11/2019</span></div>
<div class="t" style="left:333.00px;top:395.102px;transform:scaleX(0.8909);"><span style="left:-12.35px;top:-2.565px;font-size:7.4px;color:#595959;font-family:'Liberation Sans', Arial, sans-serif;">815</span></div>
<div class="t" style="left:333.00px;top:412.102px;transform:scaleX(0.8909);"><span style="left:-12.35px;top:-2.565px;font-size:7.4px;color:#595959;font-family:'Liberation Sans', Arial, sans-serif;">813</span></div>
<div class="t" style="left:333.00px;top:429.102px;transform:scaleX(0.9324);"><span style="left:-11.80px;top:-2.565px;font-size:7.4px;color:#595959;font-family:'Liberation Sans', Arial, sans-serif;">811</span></div>
<div class="t" style="left:333.00px;top:446.102px;transform:scaleX(0.8909);"><span style="left:-12.35px;top:-2.565px;font-size:7.4px;color:#595959;font-family:'Liberation Sans', Arial, sans-serif;">809</span></div>
<div class="t" style="left:333.00px;top:462.102px;transform:scaleX(0.8909);"><span style="left:-12.35px;top:-2.565px;font-size:7.4px;color:#595959;font-family:'Liberation Sans', Arial, sans-serif;">807</span></div>
<div class="t" style="left:333.00px;top:479.102px;transform:scaleX(0.8909);"><span style="left:-12.35px;top:-2.565px;font-size:7.4px;color:#595959;font-family:'Liberation Sans', Arial, sans-serif;">805</span></div>
<div class="t" style="left:333.00px;top:496.102px;transform:scaleX(0.8909);"><span style="left:-12.35px;top:-2.565px;font-size:7.4px;color:#595959;font-family:'Liberation Sans', Arial, sans-serif;">803</span></div>
<div class="t" style="left:270.88px;top:386.102px;transform:scaleX(0.8800);"><span style="left:-5.35px;top:-2.565px;font-size:7.4px;color:#595959;font-family:'Liberation Sans', Arial, sans-serif;">-15</span></div>
<div class="t" style="left:293.65px;top:386.102px;transform:scaleX(0.8800);"><span style="left:-5.35px;top:-2.565px;font-size:7.4px;color:#595959;font-family:'Liberation Sans', Arial, sans-serif;">-10</span></div>
<div class="t" style="left:316.43px;top:386.102px;transform:scaleX(0.8800);"><span style="left:-3.29px;top:-2.565px;font-size:7.4px;color:#595959;font-family:'Liberation Sans', Arial, sans-serif;">-5</span></div>
<div class="t" style="left:339.20px;top:386.102px;transform:scaleX(0.8800);"><span style="left:-2.06px;top:-2.565px;font-size:7.4px;color:#595959;font-family:'Liberation Sans', Arial, sans-serif;">0</span></div>
<div class="t" style="left:361.97px;top:386.102px;transform:scaleX(0.8800);"><span style="left:-2.06px;top:-2.565px;font-size:7.4px;color:#595959;font-family:'Liberation Sans', Arial, sans-serif;">5</span></div>
<div class="t" style="left:291.70px;top:373.752px;transform:scaleX(0.7429);"><span style="left:0.00px;top:-3.259px;font-size:9.4px;color:#595959;font-family:'Liberation Sans', Arial, sans-serif;">Pressure [kPa]</span></div>
<div class="t" style="left:268.10px;top:474.700px;transform:rotate(-90deg) scaleX(0.9010);"><span style="left:0.00px;top:-2.877px;font-size:8.3px;color:#595959;font-family:'Liberation Sans', Arial, sans-serif;">Elevation [m a.s.l.]</span></div>
<div class="t" style="left:387.60px;top:416.152px;transform:scaleX(0.8939);"><span style="left:0.00px;top:-2.635px;font-size:7.6px;color:#595959;font-family:'Liberation Sans', Arial, sans-serif;">02/10/2020</span></div>
<div class="t" style="left:387.60px;top:428.152px;transform:scaleX(0.8939);"><span style="left:0.00px;top:-2.635px;font-size:7.6px;color:#595959;font-family:'Liberation Sans', Arial, sans-serif;">03/10/2020</span></div>
<div class="t" style="left:387.60px;top:440.152px;transform:scaleX(0.8939);"><span style="left:0.00px;top:-2.635px;font-size:7.6px;color:#595959;font-family:'Liberation Sans', Arial, sans-serif;">04/10/2020</span></div>
<div class="t" style="left:10.30px;top:179.852px;"><span style="left:0.00px;top:-4.333px;font-size:12.5px;color:#111;font-family:'Liberation Sans', Arial, sans-serif;">a</span></div>
<div class="t" style="left:12.90px;top:358.852px;"><span style="left:0.00px;top:-4.333px;font-size:12.5px;color:#111;font-family:'Liberation Sans', Arial, sans-serif;">b</span></div>
<div class="t" style="left:11.90px;top:538.852px;"><span style="left:0.00px;top:-4.333px;font-size:12.5px;color:#111;font-family:'Liberation Sans', Arial, sans-serif;">c</span></div></div></body></html>
